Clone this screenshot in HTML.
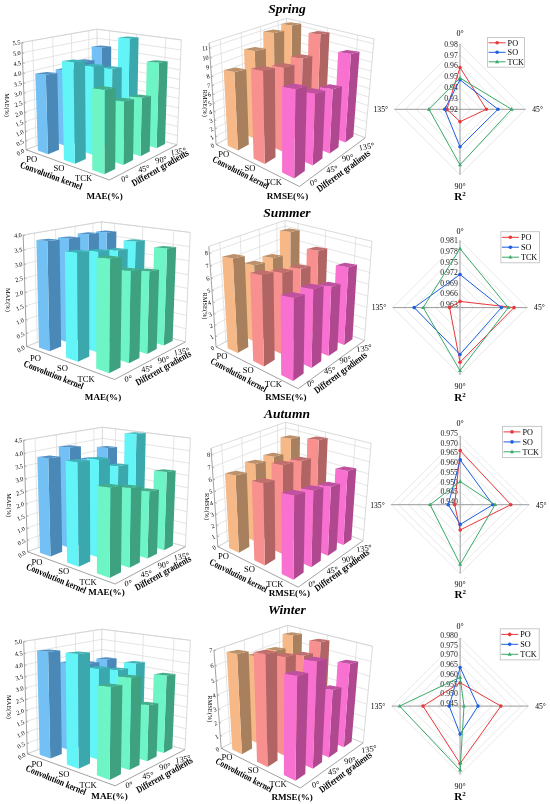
<!DOCTYPE html>
<html><head><meta charset="utf-8"><style>
html,body{margin:0;padding:0;background:#fff;}
svg{display:block;}
text{font-family:"Liberation Serif", "Times New Roman", serif;}
</style></head><body>
<svg width="550" height="804" viewBox="0 0 550 804">
<rect width="550" height="804" fill="#fff"/>
<line x1="26.1" y1="149.7" x2="97.2" y2="122.6" stroke="#dadada" stroke-width="0.7"/>
<line x1="97.2" y1="122.6" x2="177.1" y2="144.8" stroke="#dadada" stroke-width="0.7"/>
<line x1="25.7" y1="140.5" x2="97.2" y2="114.5" stroke="#dadada" stroke-width="0.7"/>
<line x1="97.2" y1="114.5" x2="177.5" y2="135.7" stroke="#dadada" stroke-width="0.7"/>
<line x1="25.4" y1="131.1" x2="97.1" y2="106.3" stroke="#dadada" stroke-width="0.7"/>
<line x1="97.1" y1="106.3" x2="177.8" y2="126.6" stroke="#dadada" stroke-width="0.7"/>
<line x1="25.0" y1="121.7" x2="97.1" y2="98.0" stroke="#dadada" stroke-width="0.7"/>
<line x1="97.1" y1="98.0" x2="178.2" y2="117.3" stroke="#dadada" stroke-width="0.7"/>
<line x1="24.6" y1="112.1" x2="97.1" y2="89.7" stroke="#dadada" stroke-width="0.7"/>
<line x1="97.1" y1="89.7" x2="178.6" y2="108.0" stroke="#dadada" stroke-width="0.7"/>
<line x1="24.2" y1="102.5" x2="97.1" y2="81.3" stroke="#dadada" stroke-width="0.7"/>
<line x1="97.1" y1="81.3" x2="179.0" y2="98.5" stroke="#dadada" stroke-width="0.7"/>
<line x1="23.8" y1="92.7" x2="97.1" y2="72.8" stroke="#dadada" stroke-width="0.7"/>
<line x1="97.1" y1="72.8" x2="179.3" y2="89.0" stroke="#dadada" stroke-width="0.7"/>
<line x1="23.4" y1="82.9" x2="97.0" y2="64.2" stroke="#dadada" stroke-width="0.7"/>
<line x1="97.0" y1="64.2" x2="179.7" y2="79.4" stroke="#dadada" stroke-width="0.7"/>
<line x1="23.0" y1="73.0" x2="97.0" y2="55.6" stroke="#dadada" stroke-width="0.7"/>
<line x1="97.0" y1="55.6" x2="180.1" y2="69.7" stroke="#dadada" stroke-width="0.7"/>
<line x1="22.6" y1="62.9" x2="97.0" y2="46.8" stroke="#dadada" stroke-width="0.7"/>
<line x1="97.0" y1="46.8" x2="180.5" y2="59.8" stroke="#dadada" stroke-width="0.7"/>
<line x1="22.2" y1="52.8" x2="97.0" y2="38.0" stroke="#dadada" stroke-width="0.7"/>
<line x1="97.0" y1="38.0" x2="180.9" y2="49.9" stroke="#dadada" stroke-width="0.7"/>
<line x1="21.8" y1="42.5" x2="97.0" y2="29.2" stroke="#dadada" stroke-width="0.7"/>
<line x1="97.0" y1="29.2" x2="181.3" y2="39.9" stroke="#dadada" stroke-width="0.7"/>
<line x1="36.2" y1="145.9" x2="32.5" y2="40.6" stroke="#dadada" stroke-width="0.7"/>
<line x1="55.2" y1="138.6" x2="52.7" y2="37.0" stroke="#dadada" stroke-width="0.7"/>
<line x1="72.9" y1="131.9" x2="71.4" y2="33.7" stroke="#dadada" stroke-width="0.7"/>
<line x1="89.4" y1="125.6" x2="88.7" y2="30.6" stroke="#dadada" stroke-width="0.7"/>
<line x1="109.2" y1="126.0" x2="109.6" y2="30.8" stroke="#dadada" stroke-width="0.7"/>
<line x1="134.7" y1="133.0" x2="136.5" y2="34.2" stroke="#dadada" stroke-width="0.7"/>
<line x1="162.4" y1="140.7" x2="165.7" y2="37.9" stroke="#dadada" stroke-width="0.7"/>
<line x1="21.8" y1="42.5" x2="97.0" y2="29.2" stroke="#d0d0d0" stroke-width="0.8"/>
<line x1="97.0" y1="29.2" x2="181.3" y2="39.9" stroke="#d0d0d0" stroke-width="0.8"/>
<line x1="177.1" y1="144.8" x2="181.3" y2="39.9" stroke="#d0d0d0" stroke-width="0.8"/>
<line x1="97.2" y1="122.6" x2="97.0" y2="29.2" stroke="#d0d0d0" stroke-width="0.8"/>
<line x1="26.1" y1="149.7" x2="97.2" y2="122.6" stroke="#d0d0d0" stroke-width="0.8"/>
<line x1="97.2" y1="122.6" x2="177.1" y2="144.8" stroke="#d0d0d0" stroke-width="0.8"/>
<line x1="26.1" y1="149.7" x2="21.8" y2="42.5" stroke="#8a8a8a" stroke-width="0.8"/>
<line x1="26.1" y1="149.7" x2="109.5" y2="180.0" stroke="#8a8a8a" stroke-width="0.8"/>
<line x1="109.5" y1="180.0" x2="177.1" y2="144.8" stroke="#8a8a8a" stroke-width="0.8"/>
<polygon points="102.0,132.3 110.8,128.7 111.2,46.4 102.0,47.5" fill="#4a88b8"/>
<polygon points="92.1,129.4 102.0,132.3 102.0,47.5 91.7,46.6" fill="#72c0f4"/>
<polygon points="91.7,46.6 102.0,47.5 111.2,46.4 100.9,45.5" fill="#5090c4"/>
<polygon points="85.3,139.1 94.8,135.2 94.5,60.2 84.6,61.5" fill="#4a88b8"/>
<polygon points="75.3,136.0 85.3,139.1 84.6,61.5 74.3,60.5" fill="#72c0f4"/>
<polygon points="74.3,60.5 84.6,61.5 94.5,60.2 84.2,59.2" fill="#5090c4"/>
<polygon points="67.4,146.4 77.6,142.2 76.6,68.9 66.0,70.4" fill="#4a88b8"/>
<polygon points="57.3,143.0 67.4,146.4 66.0,70.4 55.6,69.2" fill="#72c0f4"/>
<polygon points="55.6,69.2 66.0,70.4 76.6,68.9 66.3,67.8" fill="#5090c4"/>
<polygon points="48.0,154.2 59.0,149.8 57.3,73.1 45.8,74.7" fill="#4a88b8"/>
<polygon points="37.9,150.6 48.0,154.2 45.8,74.7 35.3,73.4" fill="#72c0f4"/>
<polygon points="35.3,73.4 45.8,74.7 57.3,73.1 46.9,71.9" fill="#5090c4"/>
<polygon points="128.1,139.9 136.8,136.0 138.6,37.3 129.5,38.4" fill="#3aa8ac"/>
<polygon points="117.4,136.8 128.1,139.9 129.5,38.4 118.2,37.5" fill="#62f4f6"/>
<polygon points="118.2,37.5 129.5,38.4 138.6,37.3 127.4,36.5" fill="#3eb4b8"/>
<polygon points="111.7,147.3 121.1,143.1 121.8,67.3 112.2,68.8" fill="#3aa8ac"/>
<polygon points="100.9,143.9 111.7,147.3 112.2,68.8 100.9,67.6" fill="#62f4f6"/>
<polygon points="100.9,67.6 112.2,68.8 121.8,67.3 110.6,66.2" fill="#3eb4b8"/>
<polygon points="94.1,155.2 104.1,150.7 104.2,64.9 93.7,66.4" fill="#3aa8ac"/>
<polygon points="83.1,151.6 94.1,155.2 93.7,66.4 82.3,65.2" fill="#62f4f6"/>
<polygon points="82.3,65.2 93.7,66.4 104.2,64.9 92.9,63.7" fill="#3eb4b8"/>
<polygon points="74.9,163.8 85.8,158.9 85.0,60.8 73.5,62.3" fill="#3aa8ac"/>
<polygon points="63.9,159.9 74.9,163.8 73.5,62.3 61.9,61.1" fill="#62f4f6"/>
<polygon points="61.9,61.1 73.5,62.3 85.0,60.8 73.4,59.6" fill="#3eb4b8"/>
<polygon points="156.6,148.2 165.0,143.9 167.7,61.3 159.0,62.7" fill="#3ea280"/>
<polygon points="144.9,144.8 156.6,148.2 159.0,62.7 146.8,61.6" fill="#6ef5c6"/>
<polygon points="146.8,61.6 159.0,62.7 167.7,61.3 155.6,60.2" fill="#44ae8c"/>
<polygon points="140.6,156.2 149.7,151.6 151.1,95.9 141.7,97.8" fill="#3ea280"/>
<polygon points="128.7,152.5 140.6,156.2 141.7,97.8 129.5,96.3" fill="#6ef5c6"/>
<polygon points="129.5,96.3 141.7,97.8 151.1,95.9 139.0,94.5" fill="#44ae8c"/>
<polygon points="123.3,164.9 133.1,159.9 134.1,99.3 124.0,101.4" fill="#3ea280"/>
<polygon points="111.3,160.9 123.3,164.9 124.0,101.4 111.6,99.8" fill="#6ef5c6"/>
<polygon points="111.6,99.8 124.0,101.4 134.1,99.3 121.8,97.8" fill="#44ae8c"/>
<polygon points="104.4,174.3 115.2,169.0 115.8,87.7 104.6,89.7" fill="#3ea280"/>
<polygon points="92.3,170.0 104.4,174.3 104.6,89.7 91.9,88.1" fill="#6ef5c6"/>
<polygon points="91.9,88.1 104.6,89.7 115.8,87.7 103.2,86.2" fill="#44ae8c"/>
<line x1="26.1" y1="149.7" x2="28.1" y2="150.3" stroke="#8a8a8a" stroke-width="0.6"/>
<text x="24.9" y="151.8" font-size="6.3" text-anchor="end" transform="rotate(-32.0 24.9 151.8)" fill="#000">0.0</text>
<line x1="25.7" y1="140.5" x2="27.7" y2="141.1" stroke="#8a8a8a" stroke-width="0.6"/>
<text x="24.5" y="142.6" font-size="6.3" text-anchor="end" transform="rotate(-29.5 24.5 142.6)" fill="#000">0.5</text>
<line x1="25.4" y1="131.1" x2="27.4" y2="131.7" stroke="#8a8a8a" stroke-width="0.6"/>
<text x="24.2" y="133.2" font-size="6.3" text-anchor="end" transform="rotate(-27.1 24.2 133.2)" fill="#000">1.0</text>
<line x1="25.0" y1="121.7" x2="27.0" y2="122.3" stroke="#8a8a8a" stroke-width="0.6"/>
<text x="23.8" y="123.8" font-size="6.3" text-anchor="end" transform="rotate(-24.6 23.8 123.8)" fill="#000">1.5</text>
<line x1="24.6" y1="112.1" x2="26.6" y2="112.7" stroke="#8a8a8a" stroke-width="0.6"/>
<text x="23.4" y="114.2" font-size="6.3" text-anchor="end" transform="rotate(-22.2 23.4 114.2)" fill="#000">2.0</text>
<line x1="24.2" y1="102.5" x2="26.2" y2="103.1" stroke="#8a8a8a" stroke-width="0.6"/>
<text x="23.0" y="104.6" font-size="6.3" text-anchor="end" transform="rotate(-19.7 23.0 104.6)" fill="#000">2.5</text>
<line x1="23.8" y1="92.7" x2="25.8" y2="93.3" stroke="#8a8a8a" stroke-width="0.6"/>
<text x="22.6" y="94.8" font-size="6.3" text-anchor="end" transform="rotate(-17.3 22.6 94.8)" fill="#000">3.0</text>
<line x1="23.4" y1="82.9" x2="25.4" y2="83.5" stroke="#8a8a8a" stroke-width="0.6"/>
<text x="22.2" y="85.0" font-size="6.3" text-anchor="end" transform="rotate(-14.8 22.2 85.0)" fill="#000">3.5</text>
<line x1="23.0" y1="73.0" x2="25.0" y2="73.6" stroke="#8a8a8a" stroke-width="0.6"/>
<text x="21.8" y="75.1" font-size="6.3" text-anchor="end" transform="rotate(-12.4 21.8 75.1)" fill="#000">4.0</text>
<line x1="22.6" y1="62.9" x2="24.6" y2="63.5" stroke="#8a8a8a" stroke-width="0.6"/>
<text x="21.4" y="65.0" font-size="6.3" text-anchor="end" transform="rotate(-9.9 21.4 65.0)" fill="#000">4.5</text>
<line x1="22.2" y1="52.8" x2="24.2" y2="53.4" stroke="#8a8a8a" stroke-width="0.6"/>
<text x="21.0" y="54.9" font-size="6.3" text-anchor="end" transform="rotate(-7.5 21.0 54.9)" fill="#000">5.0</text>
<line x1="21.8" y1="42.5" x2="23.8" y2="43.1" stroke="#8a8a8a" stroke-width="0.6"/>
<text x="20.6" y="44.6" font-size="6.3" text-anchor="end" transform="rotate(-5.0 20.6 44.6)" fill="#000">5.5</text>
<text x="6.7" y="105.1" font-size="6.4" text-anchor="middle" transform="rotate(90.0 6.7 105.1)" fill="#000" dominant-baseline="middle">MAE(%)</text>
<text x="31.8" y="161.8" font-size="8.6" text-anchor="middle" fill="#000">PO</text>
<text x="58.9" y="170.5" font-size="8.6" text-anchor="middle" fill="#000">SO</text>
<text x="83.6" y="181.3" font-size="8.6" text-anchor="middle" fill="#000">TCK</text>
<text x="125.5" y="181.4" font-size="8.3" text-anchor="middle" transform="rotate(-10.0 125.5 181.4)" fill="#000">0°</text>
<text x="144.4" y="171.5" font-size="8.3" text-anchor="middle" transform="rotate(-10.0 144.4 171.5)" fill="#000">45°</text>
<text x="161.6" y="162.5" font-size="8.3" text-anchor="middle" transform="rotate(-10.0 161.6 162.5)" fill="#000">90°</text>
<text x="178.7" y="154.4" font-size="8.3" text-anchor="middle" transform="rotate(-10.0 178.7 154.4)" fill="#000">135°</text>
<text transform="translate(19.5 167.3) rotate(20.10)" x="0" y="0" font-size="9.5" font-weight="bold" textLength="65.2" lengthAdjust="spacingAndGlyphs">Convolution kernel</text>
<text transform="translate(133.7 186.5) rotate(-29.80)" x="0" y="0" font-size="9.5" font-weight="bold" textLength="64.2" lengthAdjust="spacingAndGlyphs">Different gradients</text>
<line x1="216.1" y1="144.4" x2="286.1" y2="107.4" stroke="#dadada" stroke-width="0.7"/>
<line x1="286.1" y1="107.4" x2="365.3" y2="137.8" stroke="#dadada" stroke-width="0.7"/>
<line x1="215.5" y1="136.3" x2="286.1" y2="100.2" stroke="#dadada" stroke-width="0.7"/>
<line x1="286.1" y1="100.2" x2="366.0" y2="130.0" stroke="#dadada" stroke-width="0.7"/>
<line x1="215.0" y1="128.2" x2="286.2" y2="93.0" stroke="#dadada" stroke-width="0.7"/>
<line x1="286.2" y1="93.0" x2="366.7" y2="122.0" stroke="#dadada" stroke-width="0.7"/>
<line x1="214.4" y1="119.9" x2="286.2" y2="85.6" stroke="#dadada" stroke-width="0.7"/>
<line x1="286.2" y1="85.6" x2="367.4" y2="113.8" stroke="#dadada" stroke-width="0.7"/>
<line x1="213.8" y1="111.4" x2="286.2" y2="78.1" stroke="#dadada" stroke-width="0.7"/>
<line x1="286.2" y1="78.1" x2="368.1" y2="105.6" stroke="#dadada" stroke-width="0.7"/>
<line x1="213.2" y1="102.8" x2="286.3" y2="70.5" stroke="#dadada" stroke-width="0.7"/>
<line x1="286.3" y1="70.5" x2="368.9" y2="97.2" stroke="#dadada" stroke-width="0.7"/>
<line x1="212.6" y1="94.0" x2="286.3" y2="62.8" stroke="#dadada" stroke-width="0.7"/>
<line x1="286.3" y1="62.8" x2="369.6" y2="88.6" stroke="#dadada" stroke-width="0.7"/>
<line x1="212.0" y1="85.1" x2="286.3" y2="55.0" stroke="#dadada" stroke-width="0.7"/>
<line x1="286.3" y1="55.0" x2="370.4" y2="79.9" stroke="#dadada" stroke-width="0.7"/>
<line x1="211.4" y1="76.0" x2="286.4" y2="47.1" stroke="#dadada" stroke-width="0.7"/>
<line x1="286.4" y1="47.1" x2="371.2" y2="71.1" stroke="#dadada" stroke-width="0.7"/>
<line x1="210.7" y1="66.8" x2="286.4" y2="39.0" stroke="#dadada" stroke-width="0.7"/>
<line x1="286.4" y1="39.0" x2="371.9" y2="62.1" stroke="#dadada" stroke-width="0.7"/>
<line x1="210.1" y1="57.4" x2="286.5" y2="30.8" stroke="#dadada" stroke-width="0.7"/>
<line x1="286.5" y1="30.8" x2="372.8" y2="52.9" stroke="#dadada" stroke-width="0.7"/>
<line x1="209.4" y1="47.8" x2="286.5" y2="22.5" stroke="#dadada" stroke-width="0.7"/>
<line x1="286.5" y1="22.5" x2="373.6" y2="43.6" stroke="#dadada" stroke-width="0.7"/>
<line x1="226.1" y1="139.1" x2="220.3" y2="39.4" stroke="#dadada" stroke-width="0.7"/>
<line x1="244.9" y1="129.2" x2="241.2" y2="32.7" stroke="#dadada" stroke-width="0.7"/>
<line x1="262.3" y1="120.0" x2="260.5" y2="26.6" stroke="#dadada" stroke-width="0.7"/>
<line x1="278.5" y1="111.4" x2="278.2" y2="21.0" stroke="#dadada" stroke-width="0.7"/>
<line x1="298.0" y1="111.9" x2="299.5" y2="21.4" stroke="#dadada" stroke-width="0.7"/>
<line x1="323.2" y1="121.7" x2="327.3" y2="27.9" stroke="#dadada" stroke-width="0.7"/>
<line x1="350.7" y1="132.2" x2="357.7" y2="35.0" stroke="#dadada" stroke-width="0.7"/>
<line x1="209.1" y1="42.9" x2="286.5" y2="18.3" stroke="#d0d0d0" stroke-width="0.8"/>
<line x1="286.5" y1="18.3" x2="374.0" y2="38.9" stroke="#d0d0d0" stroke-width="0.8"/>
<line x1="365.3" y1="137.8" x2="374.0" y2="38.9" stroke="#d0d0d0" stroke-width="0.8"/>
<line x1="286.1" y1="107.4" x2="286.5" y2="18.3" stroke="#d0d0d0" stroke-width="0.8"/>
<line x1="216.1" y1="144.4" x2="286.1" y2="107.4" stroke="#d0d0d0" stroke-width="0.8"/>
<line x1="286.1" y1="107.4" x2="365.3" y2="137.8" stroke="#d0d0d0" stroke-width="0.8"/>
<line x1="216.1" y1="144.4" x2="209.1" y2="42.9" stroke="#8a8a8a" stroke-width="0.8"/>
<line x1="216.1" y1="144.4" x2="299.4" y2="186.5" stroke="#8a8a8a" stroke-width="0.8"/>
<line x1="299.4" y1="186.5" x2="365.3" y2="137.8" stroke="#8a8a8a" stroke-width="0.8"/>
<polygon points="291.0,120.6 299.6,115.7 301.3,23.7 291.9,25.5" fill="#a8805e"/>
<polygon points="281.2,116.6 291.0,120.6 291.9,25.5 281.2,24.0" fill="#f6b886"/>
<polygon points="281.2,24.0 291.9,25.5 301.3,23.7 290.6,22.3" fill="#bc9068"/>
<polygon points="274.7,129.8 283.9,124.5 284.2,31.1 274.0,33.1" fill="#a8805e"/>
<polygon points="264.8,125.6 274.7,129.8 274.0,33.1 263.2,31.5" fill="#f6b886"/>
<polygon points="263.2,31.5 274.0,33.1 284.2,31.1 273.4,29.6" fill="#bc9068"/>
<polygon points="257.0,139.8 267.1,134.1 265.8,48.8 254.8,51.0" fill="#a8805e"/>
<polygon points="247.0,135.2 257.0,139.8 254.8,51.0 244.0,49.2" fill="#f6b886"/>
<polygon points="244.0,49.2 254.8,51.0 265.8,48.8 255.0,47.0" fill="#bc9068"/>
<polygon points="237.9,150.6 248.8,144.5 246.3,69.4 234.4,72.1" fill="#a8805e"/>
<polygon points="227.8,145.7 237.9,150.6 234.4,72.1 223.7,69.9" fill="#f6b886"/>
<polygon points="223.7,69.9 234.4,72.1 246.3,69.4 235.5,67.4" fill="#bc9068"/>
<polygon points="316.9,131.0 325.3,125.7 329.5,32.6 320.4,34.5" fill="#b06464"/>
<polygon points="306.3,126.7 316.9,131.0 320.4,34.5 308.6,32.9" fill="#f89090"/>
<polygon points="308.6,32.9 320.4,34.5 329.5,32.6 317.9,31.0" fill="#c06e6e"/>
<polygon points="300.9,141.1 310.0,135.4 312.4,56.1 302.5,58.5" fill="#b06464"/>
<polygon points="290.1,136.5 300.9,141.1 302.5,58.5 290.8,56.6" fill="#f89090"/>
<polygon points="290.8,56.6 302.5,58.5 312.4,56.1 300.8,54.3" fill="#c06e6e"/>
<polygon points="283.6,152.0 293.5,145.8 294.5,65.0 283.8,67.6" fill="#b06464"/>
<polygon points="272.7,147.0 283.6,152.0 283.8,67.6 271.9,65.5" fill="#f89090"/>
<polygon points="271.9,65.5 283.8,67.6 294.5,65.0 282.7,63.0" fill="#c06e6e"/>
<polygon points="264.7,164.0 275.5,157.2 274.9,68.1 263.1,70.8" fill="#b06464"/>
<polygon points="253.6,158.5 264.7,164.0 263.1,70.8 251.0,68.6" fill="#f89090"/>
<polygon points="251.0,68.6 263.1,70.8 274.9,68.1 262.9,65.9" fill="#c06e6e"/>
<polygon points="345.2,142.4 353.3,136.6 359.6,51.7 350.9,54.0" fill="#b04890"/>
<polygon points="333.6,137.7 345.2,142.4 350.9,54.0 338.2,52.1" fill="#f870d0"/>
<polygon points="338.2,52.1 350.9,54.0 359.6,51.7 347.0,49.9" fill="#c050a0"/>
<polygon points="329.6,153.5 338.5,147.2 342.1,86.4 332.7,89.3" fill="#b04890"/>
<polygon points="317.8,148.4 329.6,153.5 332.7,89.3 320.1,86.9" fill="#f870d0"/>
<polygon points="320.1,86.9 332.7,89.3 342.1,86.4 329.6,84.2" fill="#c050a0"/>
<polygon points="312.7,165.5 322.4,158.6 325.3,90.7 315.0,93.7" fill="#b04890"/>
<polygon points="300.7,160.0 312.7,165.5 315.0,93.7 302.1,91.3" fill="#f870d0"/>
<polygon points="302.1,91.3 315.0,93.7 325.3,90.7 312.5,88.3" fill="#c050a0"/>
<polygon points="294.2,178.6 304.8,171.1 306.9,85.9 295.4,89.1" fill="#b04890"/>
<polygon points="282.1,172.6 294.2,178.6 295.4,89.1 282.1,86.5" fill="#f870d0"/>
<polygon points="282.1,86.5 295.4,89.1 306.9,85.9 293.7,83.4" fill="#c050a0"/>
<line x1="216.1" y1="144.4" x2="218.1" y2="145.0" stroke="#8a8a8a" stroke-width="0.6"/>
<text x="214.9" y="146.5" font-size="6.3" text-anchor="end" transform="rotate(-32.0 214.9 146.5)" fill="#000">0</text>
<line x1="215.5" y1="136.3" x2="217.5" y2="136.9" stroke="#8a8a8a" stroke-width="0.6"/>
<text x="214.3" y="138.4" font-size="6.3" text-anchor="end" transform="rotate(-29.7 214.3 138.4)" fill="#000">1</text>
<line x1="215.0" y1="128.2" x2="217.0" y2="128.8" stroke="#8a8a8a" stroke-width="0.6"/>
<text x="213.8" y="130.3" font-size="6.3" text-anchor="end" transform="rotate(-27.3 213.8 130.3)" fill="#000">2</text>
<line x1="214.4" y1="119.9" x2="216.4" y2="120.5" stroke="#8a8a8a" stroke-width="0.6"/>
<text x="213.2" y="122.0" font-size="6.3" text-anchor="end" transform="rotate(-25.0 213.2 122.0)" fill="#000">3</text>
<line x1="213.8" y1="111.4" x2="215.8" y2="112.0" stroke="#8a8a8a" stroke-width="0.6"/>
<text x="212.6" y="113.5" font-size="6.3" text-anchor="end" transform="rotate(-22.6 212.6 113.5)" fill="#000">4</text>
<line x1="213.2" y1="102.8" x2="215.2" y2="103.4" stroke="#8a8a8a" stroke-width="0.6"/>
<text x="212.0" y="104.9" font-size="6.3" text-anchor="end" transform="rotate(-20.3 212.0 104.9)" fill="#000">5</text>
<line x1="212.6" y1="94.0" x2="214.6" y2="94.6" stroke="#8a8a8a" stroke-width="0.6"/>
<text x="211.4" y="96.1" font-size="6.3" text-anchor="end" transform="rotate(-17.9 211.4 96.1)" fill="#000">6</text>
<line x1="212.0" y1="85.1" x2="214.0" y2="85.7" stroke="#8a8a8a" stroke-width="0.6"/>
<text x="210.8" y="87.2" font-size="6.3" text-anchor="end" transform="rotate(-15.6 210.8 87.2)" fill="#000">7</text>
<line x1="211.4" y1="76.0" x2="213.4" y2="76.6" stroke="#8a8a8a" stroke-width="0.6"/>
<text x="210.2" y="78.1" font-size="6.3" text-anchor="end" transform="rotate(-13.2 210.2 78.1)" fill="#000">8</text>
<line x1="210.7" y1="66.8" x2="212.7" y2="67.4" stroke="#8a8a8a" stroke-width="0.6"/>
<text x="209.5" y="68.9" font-size="6.3" text-anchor="end" transform="rotate(-10.9 209.5 68.9)" fill="#000">9</text>
<line x1="210.1" y1="57.4" x2="212.1" y2="58.0" stroke="#8a8a8a" stroke-width="0.6"/>
<text x="208.9" y="59.5" font-size="6.3" text-anchor="end" transform="rotate(-8.5 208.9 59.5)" fill="#000">10</text>
<line x1="209.4" y1="47.8" x2="211.4" y2="48.4" stroke="#8a8a8a" stroke-width="0.6"/>
<text x="208.2" y="49.9" font-size="6.3" text-anchor="end" transform="rotate(-6.2 208.2 49.9)" fill="#000">11</text>
<text x="204.8" y="103.3" font-size="6.4" text-anchor="middle" transform="rotate(90.0 204.8 103.3)" fill="#000" dominant-baseline="middle">RMSE(%)</text>
<text x="223.7" y="156.9" font-size="8.6" text-anchor="middle" fill="#000">PO</text>
<text x="249.9" y="170.8" font-size="8.6" text-anchor="middle" fill="#000">SO</text>
<text x="273.3" y="184.7" font-size="8.6" text-anchor="middle" fill="#000">TCK</text>
<text x="314.3" y="185.0" font-size="8.3" text-anchor="middle" transform="rotate(-10.0 314.3 185.0)" fill="#000">0°</text>
<text x="332.6" y="172.0" font-size="8.3" text-anchor="middle" transform="rotate(-10.0 332.6 172.0)" fill="#000">45°</text>
<text x="348.2" y="160.5" font-size="8.3" text-anchor="middle" transform="rotate(-10.0 348.2 160.5)" fill="#000">90°</text>
<text x="367.0" y="149.4" font-size="8.3" text-anchor="middle" transform="rotate(-10.0 367.0 149.4)" fill="#000">135°</text>
<text transform="translate(211.8 161.3) rotate(26.69)" x="0" y="0" font-size="9.5" font-weight="bold" textLength="61.9" lengthAdjust="spacingAndGlyphs">Convolution kernel</text>
<text transform="translate(319.5 192.2) rotate(-36.15)" x="0" y="0" font-size="9.5" font-weight="bold" textLength="63.9" lengthAdjust="spacingAndGlyphs">Different gradients</text>
<line x1="26.6" y1="346.4" x2="101.0" y2="318.1" stroke="#dadada" stroke-width="0.7"/>
<line x1="101.0" y1="318.1" x2="185.4" y2="341.9" stroke="#dadada" stroke-width="0.7"/>
<line x1="26.2" y1="333.1" x2="101.1" y2="306.5" stroke="#dadada" stroke-width="0.7"/>
<line x1="101.1" y1="306.5" x2="186.0" y2="328.8" stroke="#dadada" stroke-width="0.7"/>
<line x1="25.8" y1="319.6" x2="101.2" y2="294.8" stroke="#dadada" stroke-width="0.7"/>
<line x1="101.2" y1="294.8" x2="186.6" y2="315.5" stroke="#dadada" stroke-width="0.7"/>
<line x1="25.4" y1="306.0" x2="101.2" y2="283.0" stroke="#dadada" stroke-width="0.7"/>
<line x1="101.2" y1="283.0" x2="187.2" y2="302.1" stroke="#dadada" stroke-width="0.7"/>
<line x1="25.0" y1="292.1" x2="101.3" y2="271.0" stroke="#dadada" stroke-width="0.7"/>
<line x1="101.3" y1="271.0" x2="187.8" y2="288.5" stroke="#dadada" stroke-width="0.7"/>
<line x1="24.6" y1="278.1" x2="101.3" y2="258.9" stroke="#dadada" stroke-width="0.7"/>
<line x1="101.3" y1="258.9" x2="188.4" y2="274.8" stroke="#dadada" stroke-width="0.7"/>
<line x1="24.1" y1="263.9" x2="101.4" y2="246.7" stroke="#dadada" stroke-width="0.7"/>
<line x1="101.4" y1="246.7" x2="189.1" y2="260.8" stroke="#dadada" stroke-width="0.7"/>
<line x1="23.7" y1="249.6" x2="101.4" y2="234.3" stroke="#dadada" stroke-width="0.7"/>
<line x1="101.4" y1="234.3" x2="189.7" y2="246.7" stroke="#dadada" stroke-width="0.7"/>
<line x1="23.2" y1="235.0" x2="101.5" y2="221.8" stroke="#dadada" stroke-width="0.7"/>
<line x1="101.5" y1="221.8" x2="190.3" y2="232.4" stroke="#dadada" stroke-width="0.7"/>
<line x1="37.3" y1="342.4" x2="34.5" y2="233.1" stroke="#dadada" stroke-width="0.7"/>
<line x1="57.2" y1="334.8" x2="55.6" y2="229.5" stroke="#dadada" stroke-width="0.7"/>
<line x1="75.7" y1="327.8" x2="75.0" y2="226.3" stroke="#dadada" stroke-width="0.7"/>
<line x1="92.9" y1="321.2" x2="93.0" y2="223.2" stroke="#dadada" stroke-width="0.7"/>
<line x1="113.6" y1="321.7" x2="114.7" y2="223.4" stroke="#dadada" stroke-width="0.7"/>
<line x1="140.5" y1="329.2" x2="142.8" y2="226.7" stroke="#dadada" stroke-width="0.7"/>
<line x1="169.8" y1="337.5" x2="173.7" y2="230.4" stroke="#dadada" stroke-width="0.7"/>
<line x1="23.2" y1="235.0" x2="101.5" y2="221.8" stroke="#d0d0d0" stroke-width="0.8"/>
<line x1="101.5" y1="221.8" x2="190.3" y2="232.4" stroke="#d0d0d0" stroke-width="0.8"/>
<line x1="185.4" y1="341.9" x2="190.3" y2="232.4" stroke="#d0d0d0" stroke-width="0.8"/>
<line x1="101.0" y1="318.1" x2="101.5" y2="221.8" stroke="#d0d0d0" stroke-width="0.8"/>
<line x1="26.6" y1="346.4" x2="101.0" y2="318.1" stroke="#d0d0d0" stroke-width="0.8"/>
<line x1="101.0" y1="318.1" x2="185.4" y2="341.9" stroke="#d0d0d0" stroke-width="0.8"/>
<line x1="26.6" y1="346.4" x2="23.2" y2="235.0" stroke="#8a8a8a" stroke-width="0.8"/>
<line x1="26.6" y1="346.4" x2="114.6" y2="379.5" stroke="#8a8a8a" stroke-width="0.8"/>
<line x1="114.6" y1="379.5" x2="185.4" y2="341.9" stroke="#8a8a8a" stroke-width="0.8"/>
<polygon points="106.1,328.3 115.3,324.6 116.4,231.4 106.8,232.4" fill="#4a88b8"/>
<polygon points="95.8,325.2 106.1,328.3 106.8,232.4 96.0,231.6" fill="#72c0f4"/>
<polygon points="96.0,231.6 106.8,232.4 116.4,231.4 105.6,230.6" fill="#5090c4"/>
<polygon points="88.7,335.4 98.6,331.4 99.0,233.1 88.6,234.2" fill="#4a88b8"/>
<polygon points="78.3,332.1 88.7,335.4 88.6,234.2 77.7,233.4" fill="#72c0f4"/>
<polygon points="77.7,233.4 88.6,234.2 99.0,233.1 88.1,232.3" fill="#5090c4"/>
<polygon points="69.9,343.0 80.6,338.7 80.1,237.3 68.9,238.5" fill="#4a88b8"/>
<polygon points="59.4,339.5 69.9,343.0 68.9,238.5 57.9,237.6" fill="#72c0f4"/>
<polygon points="57.9,237.6 68.9,238.5 80.1,237.3 69.2,236.4" fill="#5090c4"/>
<polygon points="49.5,351.3 61.2,346.6 59.6,239.7 47.4,241.0" fill="#4a88b8"/>
<polygon points="39.0,347.4 49.5,351.3 47.4,241.0 36.4,239.9" fill="#72c0f4"/>
<polygon points="36.4,239.9 47.4,241.0 59.6,239.7 48.6,238.7" fill="#5090c4"/>
<polygon points="133.7,336.5 142.7,332.4 144.9,240.2 135.5,241.4" fill="#3aa8ac"/>
<polygon points="122.3,333.1 133.7,336.5 135.5,241.4 123.7,240.5" fill="#62f4f6"/>
<polygon points="123.7,240.5 135.5,241.4 144.9,240.2 133.1,239.3" fill="#3eb4b8"/>
<polygon points="116.5,344.2 126.3,339.8 127.8,249.1 117.7,250.5" fill="#3aa8ac"/>
<polygon points="105.1,340.6 116.5,344.2 117.7,250.5 105.7,249.4" fill="#62f4f6"/>
<polygon points="105.7,249.4 117.7,250.5 127.8,249.1 115.9,248.1" fill="#3eb4b8"/>
<polygon points="98.0,352.6 108.6,347.8 109.4,250.0 98.3,251.4" fill="#3aa8ac"/>
<polygon points="86.4,348.7 98.0,352.6 98.3,251.4 86.2,250.3" fill="#62f4f6"/>
<polygon points="86.2,250.3 98.3,251.4 109.4,250.0 97.3,248.9" fill="#3eb4b8"/>
<polygon points="77.8,361.8 89.3,356.5 89.2,251.0 77.1,252.5" fill="#3aa8ac"/>
<polygon points="66.1,357.5 77.8,361.8 77.1,252.5 64.9,251.3" fill="#62f4f6"/>
<polygon points="64.9,251.3 77.1,252.5 89.2,251.0 77.1,249.8" fill="#3eb4b8"/>
<polygon points="163.8,345.4 172.6,340.9 176.2,247.0 167.1,248.4" fill="#3ea280"/>
<polygon points="151.4,341.7 163.8,345.4 167.1,248.4 154.1,247.3" fill="#6ef5c6"/>
<polygon points="154.1,247.3 167.1,248.4 176.2,247.0 163.3,246.0" fill="#44ae8c"/>
<polygon points="147.2,353.9 156.7,349.1 159.1,269.7 149.3,271.4" fill="#3ea280"/>
<polygon points="134.6,349.9 147.2,353.9 149.3,271.4 136.2,270.0" fill="#6ef5c6"/>
<polygon points="136.2,270.0 149.3,271.4 159.1,269.7 146.1,268.4" fill="#44ae8c"/>
<polygon points="129.0,363.2 139.4,357.9 141.4,269.2 130.6,271.0" fill="#3ea280"/>
<polygon points="116.2,358.8 129.0,363.2 130.6,271.0 117.3,269.5" fill="#6ef5c6"/>
<polygon points="117.3,269.5 130.6,271.0 141.4,269.2 128.1,267.8" fill="#44ae8c"/>
<polygon points="109.1,373.3 120.5,367.5 122.0,256.9 110.1,258.6" fill="#3ea280"/>
<polygon points="96.2,368.6 109.1,373.3 110.1,258.6 96.5,257.2" fill="#6ef5c6"/>
<polygon points="96.5,257.2 110.1,258.6 122.0,256.9 108.5,255.6" fill="#44ae8c"/>
<line x1="26.6" y1="346.4" x2="28.6" y2="347.0" stroke="#8a8a8a" stroke-width="0.6"/>
<text x="25.4" y="348.5" font-size="6.3" text-anchor="end" transform="rotate(-32.0 25.4 348.5)" fill="#000">0.0</text>
<line x1="26.2" y1="333.1" x2="28.2" y2="333.7" stroke="#8a8a8a" stroke-width="0.6"/>
<text x="25.0" y="335.2" font-size="6.3" text-anchor="end" transform="rotate(-28.6 25.0 335.2)" fill="#000">0.5</text>
<line x1="25.8" y1="319.6" x2="27.8" y2="320.2" stroke="#8a8a8a" stroke-width="0.6"/>
<text x="24.6" y="321.7" font-size="6.3" text-anchor="end" transform="rotate(-25.2 24.6 321.7)" fill="#000">1.0</text>
<line x1="25.4" y1="306.0" x2="27.4" y2="306.6" stroke="#8a8a8a" stroke-width="0.6"/>
<text x="24.2" y="308.1" font-size="6.3" text-anchor="end" transform="rotate(-21.9 24.2 308.1)" fill="#000">1.5</text>
<line x1="25.0" y1="292.1" x2="27.0" y2="292.7" stroke="#8a8a8a" stroke-width="0.6"/>
<text x="23.8" y="294.2" font-size="6.3" text-anchor="end" transform="rotate(-18.5 23.8 294.2)" fill="#000">2.0</text>
<line x1="24.6" y1="278.1" x2="26.6" y2="278.7" stroke="#8a8a8a" stroke-width="0.6"/>
<text x="23.4" y="280.2" font-size="6.3" text-anchor="end" transform="rotate(-15.1 23.4 280.2)" fill="#000">2.5</text>
<line x1="24.1" y1="263.9" x2="26.1" y2="264.5" stroke="#8a8a8a" stroke-width="0.6"/>
<text x="22.9" y="266.0" font-size="6.3" text-anchor="end" transform="rotate(-11.8 22.9 266.0)" fill="#000">3.0</text>
<line x1="23.7" y1="249.6" x2="25.7" y2="250.2" stroke="#8a8a8a" stroke-width="0.6"/>
<text x="22.5" y="251.7" font-size="6.3" text-anchor="end" transform="rotate(-8.4 22.5 251.7)" fill="#000">3.5</text>
<line x1="23.2" y1="235.0" x2="25.2" y2="235.6" stroke="#8a8a8a" stroke-width="0.6"/>
<text x="22.0" y="237.1" font-size="6.3" text-anchor="end" transform="rotate(-5.0 22.0 237.1)" fill="#000">4.0</text>
<text x="7.6" y="299.9" font-size="6.4" text-anchor="middle" transform="rotate(90.0 7.6 299.9)" fill="#000" dominant-baseline="middle">MAE(%)</text>
<text x="35.4" y="361.2" font-size="8.6" text-anchor="middle" fill="#000">PO</text>
<text x="62.4" y="371.0" font-size="8.6" text-anchor="middle" fill="#000">SO</text>
<text x="86.1" y="381.6" font-size="8.6" text-anchor="middle" fill="#000">TCK</text>
<text x="128.8" y="381.4" font-size="8.3" text-anchor="middle" transform="rotate(-10.0 128.8 381.4)" fill="#000">0°</text>
<text x="147.6" y="371.6" font-size="8.3" text-anchor="middle" transform="rotate(-10.0 147.6 371.6)" fill="#000">45°</text>
<text x="164.0" y="362.5" font-size="8.3" text-anchor="middle" transform="rotate(-10.0 164.0 362.5)" fill="#000">90°</text>
<text x="182.0" y="354.4" font-size="8.3" text-anchor="middle" transform="rotate(-10.0 182.0 354.4)" fill="#000">135°</text>
<text transform="translate(23.1 366.0) rotate(21.58)" x="0" y="0" font-size="9.5" font-weight="bold" textLength="63.3" lengthAdjust="spacingAndGlyphs">Convolution kernel</text>
<text transform="translate(137.8 385.7) rotate(-29.22)" x="0" y="0" font-size="9.5" font-weight="bold" textLength="61.9" lengthAdjust="spacingAndGlyphs">Different gradients</text>
<line x1="216.1" y1="346.9" x2="285.3" y2="309.7" stroke="#dadada" stroke-width="0.7"/>
<line x1="285.3" y1="309.7" x2="364.4" y2="340.5" stroke="#dadada" stroke-width="0.7"/>
<line x1="215.3" y1="336.0" x2="285.3" y2="300.0" stroke="#dadada" stroke-width="0.7"/>
<line x1="285.3" y1="300.0" x2="365.2" y2="329.8" stroke="#dadada" stroke-width="0.7"/>
<line x1="214.5" y1="324.9" x2="285.3" y2="290.0" stroke="#dadada" stroke-width="0.7"/>
<line x1="285.3" y1="290.0" x2="366.1" y2="318.8" stroke="#dadada" stroke-width="0.7"/>
<line x1="213.7" y1="313.6" x2="285.3" y2="279.9" stroke="#dadada" stroke-width="0.7"/>
<line x1="285.3" y1="279.9" x2="366.9" y2="307.6" stroke="#dadada" stroke-width="0.7"/>
<line x1="212.8" y1="302.0" x2="285.2" y2="269.5" stroke="#dadada" stroke-width="0.7"/>
<line x1="285.2" y1="269.5" x2="367.8" y2="296.2" stroke="#dadada" stroke-width="0.7"/>
<line x1="212.0" y1="290.2" x2="285.2" y2="258.9" stroke="#dadada" stroke-width="0.7"/>
<line x1="285.2" y1="258.9" x2="368.7" y2="284.4" stroke="#dadada" stroke-width="0.7"/>
<line x1="211.1" y1="278.0" x2="285.2" y2="248.2" stroke="#dadada" stroke-width="0.7"/>
<line x1="285.2" y1="248.2" x2="369.6" y2="272.5" stroke="#dadada" stroke-width="0.7"/>
<line x1="210.2" y1="265.6" x2="285.2" y2="237.2" stroke="#dadada" stroke-width="0.7"/>
<line x1="285.2" y1="237.2" x2="370.5" y2="260.2" stroke="#dadada" stroke-width="0.7"/>
<line x1="209.3" y1="252.9" x2="285.1" y2="226.0" stroke="#dadada" stroke-width="0.7"/>
<line x1="285.1" y1="226.0" x2="371.5" y2="247.7" stroke="#dadada" stroke-width="0.7"/>
<line x1="225.9" y1="341.6" x2="219.7" y2="242.7" stroke="#dadada" stroke-width="0.7"/>
<line x1="244.4" y1="331.7" x2="240.2" y2="235.7" stroke="#dadada" stroke-width="0.7"/>
<line x1="261.6" y1="322.5" x2="259.2" y2="229.2" stroke="#dadada" stroke-width="0.7"/>
<line x1="277.7" y1="313.8" x2="276.8" y2="223.2" stroke="#dadada" stroke-width="0.7"/>
<line x1="297.2" y1="314.4" x2="298.0" y2="223.4" stroke="#dadada" stroke-width="0.7"/>
<line x1="322.4" y1="324.2" x2="325.6" y2="230.1" stroke="#dadada" stroke-width="0.7"/>
<line x1="349.8" y1="334.8" x2="355.8" y2="237.4" stroke="#dadada" stroke-width="0.7"/>
<line x1="208.8" y1="246.4" x2="285.1" y2="220.3" stroke="#d0d0d0" stroke-width="0.8"/>
<line x1="285.1" y1="220.3" x2="372.0" y2="241.3" stroke="#d0d0d0" stroke-width="0.8"/>
<line x1="364.4" y1="340.5" x2="372.0" y2="241.3" stroke="#d0d0d0" stroke-width="0.8"/>
<line x1="285.3" y1="309.7" x2="285.1" y2="220.3" stroke="#d0d0d0" stroke-width="0.8"/>
<line x1="216.1" y1="346.9" x2="285.3" y2="309.7" stroke="#d0d0d0" stroke-width="0.8"/>
<line x1="285.3" y1="309.7" x2="364.4" y2="340.5" stroke="#d0d0d0" stroke-width="0.8"/>
<line x1="216.1" y1="346.9" x2="208.8" y2="246.4" stroke="#8a8a8a" stroke-width="0.8"/>
<line x1="216.1" y1="346.9" x2="298.2" y2="388.7" stroke="#8a8a8a" stroke-width="0.8"/>
<line x1="298.2" y1="388.7" x2="364.4" y2="340.5" stroke="#8a8a8a" stroke-width="0.8"/>
<polygon points="290.2,323.1 298.8,318.2 299.7,230.0 290.4,231.9" fill="#a8805e"/>
<polygon points="280.4,319.1 290.2,323.1 290.4,231.9 279.8,230.4" fill="#f6b886"/>
<polygon points="279.8,230.4 290.4,231.9 299.7,230.0 289.2,228.5" fill="#bc9068"/>
<polygon points="273.9,332.4 283.2,327.1 282.8,255.8 272.9,258.1" fill="#a8805e"/>
<polygon points="264.1,328.1 273.9,332.4 272.9,258.1 262.4,256.3" fill="#f6b886"/>
<polygon points="262.4,256.3 272.9,258.1 282.8,255.8 272.4,254.1" fill="#bc9068"/>
<polygon points="256.4,342.4 266.4,336.7 264.8,262.7 254.1,265.2" fill="#a8805e"/>
<polygon points="246.5,337.8 256.4,342.4 254.1,265.2 243.5,263.2" fill="#f6b886"/>
<polygon points="243.5,263.2 254.1,265.2 264.8,262.7 254.3,260.8" fill="#bc9068"/>
<polygon points="237.6,353.1 248.3,347.0 244.7,256.0 232.9,258.5" fill="#a8805e"/>
<polygon points="227.7,348.2 237.6,353.1 232.9,258.5 222.2,256.5" fill="#f6b886"/>
<polygon points="222.2,256.5 232.9,258.5 244.7,256.0 234.0,254.1" fill="#bc9068"/>
<polygon points="316.0,333.6 324.5,328.3 327.3,248.5 318.2,250.7" fill="#b06464"/>
<polygon points="305.4,329.3 316.0,333.6 318.2,250.7 306.8,249.0" fill="#f89090"/>
<polygon points="306.8,249.0 318.2,250.7 327.3,248.5 315.9,246.8" fill="#c06e6e"/>
<polygon points="300.0,343.7 309.1,338.0 310.6,266.2 300.8,268.8" fill="#b06464"/>
<polygon points="289.3,339.1 300.0,343.7 300.8,268.8 289.4,266.7" fill="#f89090"/>
<polygon points="289.4,266.7 300.8,268.8 310.6,266.2 299.2,264.3" fill="#c06e6e"/>
<polygon points="282.7,354.6 292.5,348.4 292.9,270.2 282.3,272.8" fill="#b06464"/>
<polygon points="271.9,349.6 282.7,354.6 282.3,272.8 270.6,270.7" fill="#f89090"/>
<polygon points="270.6,270.7 282.3,272.8 292.9,270.2 281.3,268.1" fill="#c06e6e"/>
<polygon points="264.0,366.4 274.7,359.7 273.5,272.3 261.9,275.1" fill="#b06464"/>
<polygon points="253.2,360.9 264.0,366.4 261.9,275.1 250.1,272.8" fill="#f89090"/>
<polygon points="250.1,272.8 261.9,275.1 273.5,272.3 261.8,270.1" fill="#c06e6e"/>
<polygon points="344.1,345.1 352.4,339.3 357.1,264.7 348.3,267.3" fill="#b04890"/>
<polygon points="332.6,340.4 344.1,345.1 348.3,267.3 335.9,265.2" fill="#f870d0"/>
<polygon points="335.9,265.2 348.3,267.3 357.1,264.7 344.8,262.8" fill="#c050a0"/>
<polygon points="328.5,356.1 337.4,349.9 340.6,283.9 331.2,286.7" fill="#b04890"/>
<polygon points="316.8,351.0 328.5,356.1 331.2,286.7 318.6,284.5" fill="#f870d0"/>
<polygon points="318.6,284.5 331.2,286.7 340.6,283.9 328.2,281.7" fill="#c050a0"/>
<polygon points="311.5,368.0 321.2,361.3 323.7,286.1 313.3,289.2" fill="#b04890"/>
<polygon points="299.7,362.5 311.5,368.0 313.3,289.2 300.5,286.7" fill="#f870d0"/>
<polygon points="300.5,286.7 313.3,289.2 323.7,286.1 311.0,283.8" fill="#c050a0"/>
<polygon points="293.1,381.0 303.6,373.6 304.9,294.4 293.6,297.7" fill="#b04890"/>
<polygon points="281.2,375.0 293.1,381.0 293.6,297.7 280.6,295.1" fill="#f870d0"/>
<polygon points="280.6,295.1 293.6,297.7 304.9,294.4 292.0,291.9" fill="#c050a0"/>
<line x1="216.1" y1="346.9" x2="218.1" y2="347.5" stroke="#8a8a8a" stroke-width="0.6"/>
<text x="214.9" y="349.0" font-size="6.3" text-anchor="end" transform="rotate(-32.0 214.9 349.0)" fill="#000">0</text>
<line x1="215.3" y1="336.0" x2="217.3" y2="336.6" stroke="#8a8a8a" stroke-width="0.6"/>
<text x="214.1" y="338.1" font-size="6.3" text-anchor="end" transform="rotate(-28.8 214.1 338.1)" fill="#000">1</text>
<line x1="214.5" y1="324.9" x2="216.5" y2="325.5" stroke="#8a8a8a" stroke-width="0.6"/>
<text x="213.3" y="327.0" font-size="6.3" text-anchor="end" transform="rotate(-25.6 213.3 327.0)" fill="#000">2</text>
<line x1="213.7" y1="313.6" x2="215.7" y2="314.2" stroke="#8a8a8a" stroke-width="0.6"/>
<text x="212.5" y="315.7" font-size="6.3" text-anchor="end" transform="rotate(-22.5 212.5 315.7)" fill="#000">3</text>
<line x1="212.8" y1="302.0" x2="214.8" y2="302.6" stroke="#8a8a8a" stroke-width="0.6"/>
<text x="211.6" y="304.1" font-size="6.3" text-anchor="end" transform="rotate(-19.3 211.6 304.1)" fill="#000">4</text>
<line x1="212.0" y1="290.2" x2="214.0" y2="290.8" stroke="#8a8a8a" stroke-width="0.6"/>
<text x="210.8" y="292.3" font-size="6.3" text-anchor="end" transform="rotate(-16.1 210.8 292.3)" fill="#000">5</text>
<line x1="211.1" y1="278.0" x2="213.1" y2="278.6" stroke="#8a8a8a" stroke-width="0.6"/>
<text x="209.9" y="280.1" font-size="6.3" text-anchor="end" transform="rotate(-12.9 209.9 280.1)" fill="#000">6</text>
<line x1="210.2" y1="265.6" x2="212.2" y2="266.2" stroke="#8a8a8a" stroke-width="0.6"/>
<text x="209.0" y="267.7" font-size="6.3" text-anchor="end" transform="rotate(-9.8 209.0 267.7)" fill="#000">7</text>
<line x1="209.3" y1="252.9" x2="211.3" y2="253.5" stroke="#8a8a8a" stroke-width="0.6"/>
<text x="208.1" y="255.0" font-size="6.3" text-anchor="end" transform="rotate(-6.6 208.1 255.0)" fill="#000">8</text>
<text x="204.6" y="306.0" font-size="6.4" text-anchor="middle" transform="rotate(90.0 204.6 306.0)" fill="#000" dominant-baseline="middle">RMSE(%)</text>
<text x="222.1" y="359.4" font-size="8.6" text-anchor="middle" fill="#000">PO</text>
<text x="248.3" y="373.3" font-size="8.6" text-anchor="middle" fill="#000">SO</text>
<text x="273.3" y="387.2" font-size="8.6" text-anchor="middle" fill="#000">TCK</text>
<text x="311.4" y="386.2" font-size="8.3" text-anchor="middle" transform="rotate(-10.0 311.4 386.2)" fill="#000">0°</text>
<text x="330.2" y="373.1" font-size="8.3" text-anchor="middle" transform="rotate(-10.0 330.2 373.1)" fill="#000">45°</text>
<text x="345.7" y="362.5" font-size="8.3" text-anchor="middle" transform="rotate(-10.0 345.7 362.5)" fill="#000">90°</text>
<text x="364.6" y="351.0" font-size="8.3" text-anchor="middle" transform="rotate(-10.0 364.6 351.0)" fill="#000">135°</text>
<text transform="translate(209.8 362.9) rotate(28.29)" x="0" y="0" font-size="9.5" font-weight="bold" textLength="62.2" lengthAdjust="spacingAndGlyphs">Convolution kernel</text>
<text transform="translate(317.1 393.8) rotate(-36.56)" x="0" y="0" font-size="9.5" font-weight="bold" textLength="63.1" lengthAdjust="spacingAndGlyphs">Different gradients</text>
<line x1="27.6" y1="551.7" x2="102.1" y2="523.4" stroke="#dadada" stroke-width="0.7"/>
<line x1="102.1" y1="523.4" x2="185.4" y2="546.6" stroke="#dadada" stroke-width="0.7"/>
<line x1="27.2" y1="539.9" x2="102.2" y2="513.1" stroke="#dadada" stroke-width="0.7"/>
<line x1="102.2" y1="513.1" x2="185.9" y2="535.1" stroke="#dadada" stroke-width="0.7"/>
<line x1="26.8" y1="528.0" x2="102.2" y2="502.8" stroke="#dadada" stroke-width="0.7"/>
<line x1="102.2" y1="502.8" x2="186.5" y2="523.5" stroke="#dadada" stroke-width="0.7"/>
<line x1="26.4" y1="515.9" x2="102.2" y2="492.3" stroke="#dadada" stroke-width="0.7"/>
<line x1="102.2" y1="492.3" x2="187.0" y2="511.7" stroke="#dadada" stroke-width="0.7"/>
<line x1="25.9" y1="503.6" x2="102.3" y2="481.8" stroke="#dadada" stroke-width="0.7"/>
<line x1="102.3" y1="481.8" x2="187.6" y2="499.8" stroke="#dadada" stroke-width="0.7"/>
<line x1="25.5" y1="491.3" x2="102.3" y2="471.1" stroke="#dadada" stroke-width="0.7"/>
<line x1="102.3" y1="471.1" x2="188.1" y2="487.8" stroke="#dadada" stroke-width="0.7"/>
<line x1="25.1" y1="478.7" x2="102.3" y2="460.3" stroke="#dadada" stroke-width="0.7"/>
<line x1="102.3" y1="460.3" x2="188.7" y2="475.6" stroke="#dadada" stroke-width="0.7"/>
<line x1="24.6" y1="466.0" x2="102.4" y2="449.4" stroke="#dadada" stroke-width="0.7"/>
<line x1="102.4" y1="449.4" x2="189.3" y2="463.2" stroke="#dadada" stroke-width="0.7"/>
<line x1="24.2" y1="453.2" x2="102.4" y2="438.3" stroke="#dadada" stroke-width="0.7"/>
<line x1="102.4" y1="438.3" x2="189.8" y2="450.7" stroke="#dadada" stroke-width="0.7"/>
<line x1="23.7" y1="440.1" x2="102.4" y2="427.2" stroke="#dadada" stroke-width="0.7"/>
<line x1="102.4" y1="427.2" x2="190.4" y2="438.1" stroke="#dadada" stroke-width="0.7"/>
<line x1="38.3" y1="547.6" x2="35.0" y2="438.3" stroke="#dadada" stroke-width="0.7"/>
<line x1="58.3" y1="540.0" x2="56.3" y2="434.8" stroke="#dadada" stroke-width="0.7"/>
<line x1="76.8" y1="533.0" x2="75.9" y2="431.6" stroke="#dadada" stroke-width="0.7"/>
<line x1="94.0" y1="526.5" x2="93.9" y2="428.6" stroke="#dadada" stroke-width="0.7"/>
<line x1="114.6" y1="526.9" x2="115.6" y2="428.8" stroke="#dadada" stroke-width="0.7"/>
<line x1="141.2" y1="534.3" x2="143.5" y2="432.3" stroke="#dadada" stroke-width="0.7"/>
<line x1="170.0" y1="542.3" x2="174.1" y2="436.1" stroke="#dadada" stroke-width="0.7"/>
<line x1="23.7" y1="440.1" x2="102.4" y2="427.2" stroke="#d0d0d0" stroke-width="0.8"/>
<line x1="102.4" y1="427.2" x2="190.4" y2="438.1" stroke="#d0d0d0" stroke-width="0.8"/>
<line x1="185.4" y1="546.6" x2="190.4" y2="438.1" stroke="#d0d0d0" stroke-width="0.8"/>
<line x1="102.1" y1="523.4" x2="102.4" y2="427.2" stroke="#d0d0d0" stroke-width="0.8"/>
<line x1="27.6" y1="551.7" x2="102.1" y2="523.4" stroke="#d0d0d0" stroke-width="0.8"/>
<line x1="102.1" y1="523.4" x2="185.4" y2="546.6" stroke="#d0d0d0" stroke-width="0.8"/>
<line x1="27.6" y1="551.7" x2="23.7" y2="440.1" stroke="#8a8a8a" stroke-width="0.8"/>
<line x1="27.6" y1="551.7" x2="115.1" y2="584.0" stroke="#8a8a8a" stroke-width="0.8"/>
<line x1="115.1" y1="584.0" x2="185.4" y2="546.6" stroke="#8a8a8a" stroke-width="0.8"/>
<polygon points="107.1,533.4 116.3,529.7 117.1,446.9 107.6,448.0" fill="#4a88b8"/>
<polygon points="96.8,530.4 107.1,533.4 107.6,448.0 96.9,447.1" fill="#72c0f4"/>
<polygon points="96.9,447.1 107.6,448.0 117.1,446.9 106.5,446.0" fill="#5090c4"/>
<polygon points="89.7,540.5 99.6,536.5 99.8,458.2 89.5,459.6" fill="#4a88b8"/>
<polygon points="79.3,537.3 89.7,540.5 89.5,459.6 78.7,458.5" fill="#72c0f4"/>
<polygon points="78.7,458.5 89.5,459.6 99.8,458.2 89.0,457.2" fill="#5090c4"/>
<polygon points="70.9,548.2 81.6,543.8 80.9,446.2 69.7,447.4" fill="#4a88b8"/>
<polygon points="60.5,544.7 70.9,548.2 69.7,447.4 58.7,446.4" fill="#72c0f4"/>
<polygon points="58.7,446.4 69.7,447.4 80.9,446.2 70.0,445.2" fill="#5090c4"/>
<polygon points="50.5,556.5 62.2,551.7 60.5,456.7 48.3,458.2" fill="#4a88b8"/>
<polygon points="40.0,552.7 50.5,556.5 48.3,458.2 37.3,457.0" fill="#72c0f4"/>
<polygon points="37.3,457.0 48.3,458.2 60.5,456.7 49.6,455.6" fill="#5090c4"/>
<polygon points="134.3,541.4 143.3,537.4 145.8,433.1 136.4,434.1" fill="#3aa8ac"/>
<polygon points="123.2,538.2 134.3,541.4 136.4,434.1 124.6,433.3" fill="#62f4f6"/>
<polygon points="124.6,433.3 136.4,434.1 145.8,433.1 134.1,432.3" fill="#3eb4b8"/>
<polygon points="117.3,549.2 127.0,544.8 128.3,464.6 118.2,466.1" fill="#3aa8ac"/>
<polygon points="106.0,545.6 117.3,549.2 118.2,466.1 106.4,464.9" fill="#62f4f6"/>
<polygon points="106.4,464.9 118.2,466.1 128.3,464.6 116.6,463.5" fill="#3eb4b8"/>
<polygon points="98.8,557.5 109.4,552.8 110.0,457.9 99.0,459.4" fill="#3aa8ac"/>
<polygon points="87.3,553.7 98.8,557.5 99.0,459.4 86.9,458.2" fill="#62f4f6"/>
<polygon points="86.9,458.2 99.0,459.4 110.0,457.9 98.1,456.8" fill="#3eb4b8"/>
<polygon points="78.6,566.7 90.2,561.5 89.9,460.3 77.7,461.9" fill="#3aa8ac"/>
<polygon points="67.1,562.5 78.6,566.7 77.7,461.9 65.6,460.6" fill="#62f4f6"/>
<polygon points="65.6,460.6 77.7,461.9 89.9,460.3 77.8,459.1" fill="#3eb4b8"/>
<polygon points="164.1,550.2 172.8,545.7 175.7,470.5 166.8,472.1" fill="#3ea280"/>
<polygon points="151.9,546.6 164.1,550.2 166.8,472.1 154.0,470.8" fill="#6ef5c6"/>
<polygon points="154.0,470.8 166.8,472.1 175.7,470.5 163.1,469.3" fill="#44ae8c"/>
<polygon points="147.5,558.6 157.0,553.8 159.0,489.7 149.3,491.5" fill="#3ea280"/>
<polygon points="135.1,554.7 147.5,558.6 149.3,491.5 136.4,490.0" fill="#6ef5c6"/>
<polygon points="136.4,490.0 149.3,491.5 159.0,489.7 146.2,488.2" fill="#44ae8c"/>
<polygon points="129.5,567.8 139.8,562.6 141.5,486.2 130.8,488.1" fill="#3ea280"/>
<polygon points="116.8,563.6 129.5,567.8 130.8,488.1 117.7,486.6" fill="#6ef5c6"/>
<polygon points="117.7,486.6 130.8,488.1 141.5,486.2 128.5,484.7" fill="#44ae8c"/>
<polygon points="109.7,577.9 121.0,572.2 122.1,485.4 110.3,487.4" fill="#3ea280"/>
<polygon points="96.9,573.3 109.7,577.9 110.3,487.4 97.0,485.7" fill="#6ef5c6"/>
<polygon points="97.0,485.7 110.3,487.4 122.1,485.4 108.8,483.8" fill="#44ae8c"/>
<line x1="27.6" y1="551.7" x2="29.6" y2="552.3" stroke="#8a8a8a" stroke-width="0.6"/>
<text x="26.4" y="553.8" font-size="6.3" text-anchor="end" transform="rotate(-32.0 26.4 553.8)" fill="#000">0.0</text>
<line x1="27.2" y1="539.9" x2="29.2" y2="540.5" stroke="#8a8a8a" stroke-width="0.6"/>
<text x="26.0" y="542.0" font-size="6.3" text-anchor="end" transform="rotate(-29.0 26.0 542.0)" fill="#000">0.5</text>
<line x1="26.8" y1="528.0" x2="28.8" y2="528.6" stroke="#8a8a8a" stroke-width="0.6"/>
<text x="25.6" y="530.1" font-size="6.3" text-anchor="end" transform="rotate(-26.0 25.6 530.1)" fill="#000">1.0</text>
<line x1="26.4" y1="515.9" x2="28.4" y2="516.5" stroke="#8a8a8a" stroke-width="0.6"/>
<text x="25.2" y="518.0" font-size="6.3" text-anchor="end" transform="rotate(-23.0 25.2 518.0)" fill="#000">1.5</text>
<line x1="25.9" y1="503.6" x2="27.9" y2="504.2" stroke="#8a8a8a" stroke-width="0.6"/>
<text x="24.7" y="505.7" font-size="6.3" text-anchor="end" transform="rotate(-20.0 24.7 505.7)" fill="#000">2.0</text>
<line x1="25.5" y1="491.3" x2="27.5" y2="491.9" stroke="#8a8a8a" stroke-width="0.6"/>
<text x="24.3" y="493.4" font-size="6.3" text-anchor="end" transform="rotate(-17.0 24.3 493.4)" fill="#000">2.5</text>
<line x1="25.1" y1="478.7" x2="27.1" y2="479.3" stroke="#8a8a8a" stroke-width="0.6"/>
<text x="23.9" y="480.8" font-size="6.3" text-anchor="end" transform="rotate(-14.0 23.9 480.8)" fill="#000">3.0</text>
<line x1="24.6" y1="466.0" x2="26.6" y2="466.6" stroke="#8a8a8a" stroke-width="0.6"/>
<text x="23.4" y="468.1" font-size="6.3" text-anchor="end" transform="rotate(-11.0 23.4 468.1)" fill="#000">3.5</text>
<line x1="24.2" y1="453.2" x2="26.2" y2="453.8" stroke="#8a8a8a" stroke-width="0.6"/>
<text x="23.0" y="455.3" font-size="6.3" text-anchor="end" transform="rotate(-8.0 23.0 455.3)" fill="#000">4.0</text>
<line x1="23.7" y1="440.1" x2="25.7" y2="440.7" stroke="#8a8a8a" stroke-width="0.6"/>
<text x="22.5" y="442.2" font-size="6.3" text-anchor="end" transform="rotate(-5.0 22.5 442.2)" fill="#000">4.5</text>
<text x="8.4" y="505.2" font-size="6.4" text-anchor="middle" transform="rotate(90.0 8.4 505.2)" fill="#000" dominant-baseline="middle">MAE(%)</text>
<text x="37.0" y="564.9" font-size="8.6" text-anchor="middle" fill="#000">PO</text>
<text x="63.7" y="574.4" font-size="8.6" text-anchor="middle" fill="#000">SO</text>
<text x="88.2" y="585.0" font-size="8.6" text-anchor="middle" fill="#000">TCK</text>
<text x="128.8" y="585.9" font-size="8.3" text-anchor="middle" transform="rotate(-10.0 128.8 585.9)" fill="#000">0°</text>
<text x="146.8" y="576.6" font-size="8.3" text-anchor="middle" transform="rotate(-10.0 146.8 576.6)" fill="#000">45°</text>
<text x="164.0" y="567.5" font-size="8.3" text-anchor="middle" transform="rotate(-10.0 164.0 567.5)" fill="#000">90°</text>
<text x="182.0" y="559.4" font-size="8.3" text-anchor="middle" transform="rotate(-10.0 182.0 559.4)" fill="#000">135°</text>
<text transform="translate(25.5 568.9) rotate(22.63)" x="0" y="0" font-size="9.5" font-weight="bold" textLength="63.9" lengthAdjust="spacingAndGlyphs">Convolution kernel</text>
<text transform="translate(137.0 590.7) rotate(-28.86)" x="0" y="0" font-size="9.5" font-weight="bold" textLength="62.6" lengthAdjust="spacingAndGlyphs">Different gradients</text>
<line x1="217.8" y1="546.6" x2="285.6" y2="510.3" stroke="#dadada" stroke-width="0.7"/>
<line x1="285.6" y1="510.3" x2="363.1" y2="540.6" stroke="#dadada" stroke-width="0.7"/>
<line x1="217.1" y1="536.0" x2="285.6" y2="500.7" stroke="#dadada" stroke-width="0.7"/>
<line x1="285.6" y1="500.7" x2="364.0" y2="530.1" stroke="#dadada" stroke-width="0.7"/>
<line x1="216.4" y1="525.1" x2="285.6" y2="490.9" stroke="#dadada" stroke-width="0.7"/>
<line x1="285.6" y1="490.9" x2="364.9" y2="519.3" stroke="#dadada" stroke-width="0.7"/>
<line x1="215.6" y1="514.0" x2="285.6" y2="480.9" stroke="#dadada" stroke-width="0.7"/>
<line x1="285.6" y1="480.9" x2="365.8" y2="508.4" stroke="#dadada" stroke-width="0.7"/>
<line x1="214.8" y1="502.7" x2="285.6" y2="470.7" stroke="#dadada" stroke-width="0.7"/>
<line x1="285.6" y1="470.7" x2="366.7" y2="497.1" stroke="#dadada" stroke-width="0.7"/>
<line x1="214.0" y1="491.1" x2="285.6" y2="460.3" stroke="#dadada" stroke-width="0.7"/>
<line x1="285.6" y1="460.3" x2="367.7" y2="485.7" stroke="#dadada" stroke-width="0.7"/>
<line x1="213.2" y1="479.2" x2="285.7" y2="449.7" stroke="#dadada" stroke-width="0.7"/>
<line x1="285.7" y1="449.7" x2="368.6" y2="473.9" stroke="#dadada" stroke-width="0.7"/>
<line x1="212.3" y1="467.0" x2="285.7" y2="438.9" stroke="#dadada" stroke-width="0.7"/>
<line x1="285.7" y1="438.9" x2="369.6" y2="461.9" stroke="#dadada" stroke-width="0.7"/>
<line x1="211.5" y1="454.5" x2="285.7" y2="427.8" stroke="#dadada" stroke-width="0.7"/>
<line x1="285.7" y1="427.8" x2="370.6" y2="449.6" stroke="#dadada" stroke-width="0.7"/>
<line x1="227.4" y1="541.5" x2="221.6" y2="444.5" stroke="#dadada" stroke-width="0.7"/>
<line x1="245.4" y1="531.8" x2="241.7" y2="437.5" stroke="#dadada" stroke-width="0.7"/>
<line x1="262.3" y1="522.8" x2="260.2" y2="431.1" stroke="#dadada" stroke-width="0.7"/>
<line x1="278.0" y1="514.4" x2="277.5" y2="425.0" stroke="#dadada" stroke-width="0.7"/>
<line x1="297.3" y1="514.9" x2="298.5" y2="425.3" stroke="#dadada" stroke-width="0.7"/>
<line x1="322.1" y1="524.6" x2="325.7" y2="432.1" stroke="#dadada" stroke-width="0.7"/>
<line x1="348.9" y1="535.0" x2="355.3" y2="439.4" stroke="#dadada" stroke-width="0.7"/>
<line x1="211.0" y1="448.2" x2="285.7" y2="422.2" stroke="#d0d0d0" stroke-width="0.8"/>
<line x1="285.7" y1="422.2" x2="371.1" y2="443.3" stroke="#d0d0d0" stroke-width="0.8"/>
<line x1="363.1" y1="540.6" x2="371.1" y2="443.3" stroke="#d0d0d0" stroke-width="0.8"/>
<line x1="285.6" y1="510.3" x2="285.7" y2="422.2" stroke="#d0d0d0" stroke-width="0.8"/>
<line x1="217.8" y1="546.6" x2="285.6" y2="510.3" stroke="#d0d0d0" stroke-width="0.8"/>
<line x1="285.6" y1="510.3" x2="363.1" y2="540.6" stroke="#d0d0d0" stroke-width="0.8"/>
<line x1="217.8" y1="546.6" x2="211.0" y2="448.2" stroke="#8a8a8a" stroke-width="0.8"/>
<line x1="217.8" y1="546.6" x2="298.3" y2="587.2" stroke="#8a8a8a" stroke-width="0.8"/>
<line x1="298.3" y1="587.2" x2="363.1" y2="540.6" stroke="#8a8a8a" stroke-width="0.8"/>
<polygon points="290.3,523.5 298.8,518.6 300.0,436.8 290.9,438.8" fill="#a8805e"/>
<polygon points="280.7,519.5 290.3,523.5 290.9,438.8 280.5,437.2" fill="#f6b886"/>
<polygon points="280.5,437.2 290.9,438.8 300.0,436.8 289.7,435.3" fill="#bc9068"/>
<polygon points="274.4,532.5 283.5,527.4 283.4,454.4 273.7,456.7" fill="#a8805e"/>
<polygon points="264.7,528.3 274.4,532.5 273.7,456.7 263.3,454.9" fill="#f6b886"/>
<polygon points="263.3,454.9 273.7,456.7 283.4,454.4 273.1,452.7" fill="#bc9068"/>
<polygon points="257.3,542.3 267.0,536.7 265.7,461.6 255.2,464.0" fill="#a8805e"/>
<polygon points="247.6,537.8 257.3,542.3 255.2,464.0 244.8,462.0" fill="#f6b886"/>
<polygon points="244.8,462.0 255.2,464.0 265.7,461.6 255.3,459.7" fill="#bc9068"/>
<polygon points="238.9,552.7 249.4,546.8 246.8,472.7 235.5,475.4" fill="#a8805e"/>
<polygon points="229.2,547.9 238.9,552.7 235.5,475.4 225.0,473.2" fill="#f6b886"/>
<polygon points="225.0,473.2 235.5,475.4 246.8,472.7 236.3,470.7" fill="#bc9068"/>
<polygon points="315.7,533.8 324.1,528.6 327.7,438.0 318.7,440.1" fill="#b06464"/>
<polygon points="305.3,529.6 315.7,533.8 318.7,440.1 307.3,438.4" fill="#f89090"/>
<polygon points="307.3,438.4 318.7,440.1 327.7,438.0 316.4,436.4" fill="#c06e6e"/>
<polygon points="300.0,543.7 308.9,538.1 311.0,458.6 301.3,461.0" fill="#b06464"/>
<polygon points="289.5,539.1 300.0,543.7 301.3,461.0 289.9,459.1" fill="#f89090"/>
<polygon points="289.9,459.1 301.3,461.0 311.0,458.6 299.6,456.8" fill="#c06e6e"/>
<polygon points="283.1,554.2 292.7,548.2 293.5,462.6 283.0,465.1" fill="#b06464"/>
<polygon points="272.5,549.3 283.1,554.2 283.0,465.1 271.5,463.1" fill="#f89090"/>
<polygon points="271.5,463.1 283.0,465.1 293.5,462.6 282.0,460.6" fill="#c06e6e"/>
<polygon points="264.9,565.6 275.3,559.1 274.6,480.2 263.3,483.1" fill="#b06464"/>
<polygon points="254.3,560.3 264.9,565.6 263.3,483.1 251.8,480.8" fill="#f89090"/>
<polygon points="251.8,480.8 263.3,483.1 274.6,480.2 263.1,478.0" fill="#c06e6e"/>
<polygon points="343.3,545.0 351.4,539.4 356.3,468.3 347.6,470.9" fill="#b04890"/>
<polygon points="332.0,540.4 343.3,545.0 347.6,470.9 335.4,468.8" fill="#f870d0"/>
<polygon points="335.4,468.8 347.6,470.9 356.3,468.3 344.2,466.4" fill="#c050a0"/>
<polygon points="327.9,555.7 336.6,549.7 340.2,484.0 330.9,486.7" fill="#b04890"/>
<polygon points="316.4,550.8 327.9,555.7 330.9,486.7 318.6,484.5" fill="#f870d0"/>
<polygon points="318.6,484.5 330.9,486.7 340.2,484.0 328.0,481.8" fill="#c050a0"/>
<polygon points="311.3,567.3 320.7,560.7 323.5,487.6 313.4,490.6" fill="#b04890"/>
<polygon points="299.7,561.9 311.3,567.3 313.4,490.6 300.9,488.2" fill="#f870d0"/>
<polygon points="300.9,488.2 313.4,490.6 323.5,487.6 311.1,485.3" fill="#c050a0"/>
<polygon points="293.4,579.7 303.6,572.6 305.2,492.1 294.2,495.3" fill="#b04890"/>
<polygon points="281.7,573.9 293.4,579.7 294.2,495.3 281.5,492.8" fill="#f870d0"/>
<polygon points="281.5,492.8 294.2,495.3 305.2,492.1 292.6,489.7" fill="#c050a0"/>
<line x1="217.8" y1="546.6" x2="219.8" y2="547.2" stroke="#8a8a8a" stroke-width="0.6"/>
<text x="216.6" y="548.7" font-size="6.3" text-anchor="end" transform="rotate(-32.0 216.6 548.7)" fill="#000">0</text>
<line x1="217.1" y1="536.0" x2="219.1" y2="536.6" stroke="#8a8a8a" stroke-width="0.6"/>
<text x="215.9" y="538.1" font-size="6.3" text-anchor="end" transform="rotate(-28.8 215.9 538.1)" fill="#000">1</text>
<line x1="216.4" y1="525.1" x2="218.4" y2="525.7" stroke="#8a8a8a" stroke-width="0.6"/>
<text x="215.2" y="527.2" font-size="6.3" text-anchor="end" transform="rotate(-25.6 215.2 527.2)" fill="#000">2</text>
<line x1="215.6" y1="514.0" x2="217.6" y2="514.6" stroke="#8a8a8a" stroke-width="0.6"/>
<text x="214.4" y="516.1" font-size="6.3" text-anchor="end" transform="rotate(-22.5 214.4 516.1)" fill="#000">3</text>
<line x1="214.8" y1="502.7" x2="216.8" y2="503.3" stroke="#8a8a8a" stroke-width="0.6"/>
<text x="213.6" y="504.8" font-size="6.3" text-anchor="end" transform="rotate(-19.3 213.6 504.8)" fill="#000">4</text>
<line x1="214.0" y1="491.1" x2="216.0" y2="491.7" stroke="#8a8a8a" stroke-width="0.6"/>
<text x="212.8" y="493.2" font-size="6.3" text-anchor="end" transform="rotate(-16.1 212.8 493.2)" fill="#000">5</text>
<line x1="213.2" y1="479.2" x2="215.2" y2="479.8" stroke="#8a8a8a" stroke-width="0.6"/>
<text x="212.0" y="481.3" font-size="6.3" text-anchor="end" transform="rotate(-12.9 212.0 481.3)" fill="#000">6</text>
<line x1="212.3" y1="467.0" x2="214.3" y2="467.6" stroke="#8a8a8a" stroke-width="0.6"/>
<text x="211.1" y="469.1" font-size="6.3" text-anchor="end" transform="rotate(-9.8 211.1 469.1)" fill="#000">7</text>
<line x1="211.5" y1="454.5" x2="213.5" y2="455.1" stroke="#8a8a8a" stroke-width="0.6"/>
<text x="210.3" y="456.6" font-size="6.3" text-anchor="end" transform="rotate(-6.6 210.3 456.6)" fill="#000">8</text>
<text x="206.6" y="506.6" font-size="6.4" text-anchor="middle" transform="rotate(90.0 206.6 506.6)" fill="#000" dominant-baseline="middle">RMSE(%)</text>
<text x="223.5" y="558.8" font-size="8.6" text-anchor="middle" fill="#000">PO</text>
<text x="249.6" y="572.4" font-size="8.6" text-anchor="middle" fill="#000">SO</text>
<text x="274.8" y="586.7" font-size="8.6" text-anchor="middle" fill="#000">TCK</text>
<text x="312.7" y="586.6" font-size="8.3" text-anchor="middle" transform="rotate(-10.0 312.7 586.6)" fill="#000">0°</text>
<text x="332.7" y="573.0" font-size="8.3" text-anchor="middle" transform="rotate(-10.0 332.7 573.0)" fill="#000">45°</text>
<text x="348.2" y="562.0" font-size="8.3" text-anchor="middle" transform="rotate(-10.0 348.2 562.0)" fill="#000">90°</text>
<text x="364.5" y="551.2" font-size="8.3" text-anchor="middle" transform="rotate(-10.0 364.5 551.2)" fill="#000">135°</text>
<text transform="translate(208.7 564.0) rotate(26.57)" x="0" y="0" font-size="9.5" font-weight="bold" textLength="63.5" lengthAdjust="spacingAndGlyphs">Convolution kernel</text>
<text transform="translate(317.3 591.8) rotate(-35.94)" x="0" y="0" font-size="9.5" font-weight="bold" textLength="65.1" lengthAdjust="spacingAndGlyphs">Different gradients</text>
<line x1="27.3" y1="753.7" x2="101.3" y2="726.3" stroke="#dadada" stroke-width="0.7"/>
<line x1="101.3" y1="726.3" x2="185.0" y2="749.6" stroke="#dadada" stroke-width="0.7"/>
<line x1="26.9" y1="743.1" x2="101.4" y2="717.0" stroke="#dadada" stroke-width="0.7"/>
<line x1="101.4" y1="717.0" x2="185.5" y2="739.2" stroke="#dadada" stroke-width="0.7"/>
<line x1="26.6" y1="732.3" x2="101.4" y2="707.6" stroke="#dadada" stroke-width="0.7"/>
<line x1="101.4" y1="707.6" x2="186.0" y2="728.7" stroke="#dadada" stroke-width="0.7"/>
<line x1="26.2" y1="721.4" x2="101.5" y2="698.1" stroke="#dadada" stroke-width="0.7"/>
<line x1="101.5" y1="698.1" x2="186.5" y2="718.1" stroke="#dadada" stroke-width="0.7"/>
<line x1="25.9" y1="710.3" x2="101.6" y2="688.6" stroke="#dadada" stroke-width="0.7"/>
<line x1="101.6" y1="688.6" x2="187.1" y2="707.3" stroke="#dadada" stroke-width="0.7"/>
<line x1="25.5" y1="699.2" x2="101.6" y2="678.9" stroke="#dadada" stroke-width="0.7"/>
<line x1="101.6" y1="678.9" x2="187.6" y2="696.5" stroke="#dadada" stroke-width="0.7"/>
<line x1="25.2" y1="687.9" x2="101.7" y2="669.1" stroke="#dadada" stroke-width="0.7"/>
<line x1="101.7" y1="669.1" x2="188.1" y2="685.5" stroke="#dadada" stroke-width="0.7"/>
<line x1="24.8" y1="676.5" x2="101.7" y2="659.3" stroke="#dadada" stroke-width="0.7"/>
<line x1="101.7" y1="659.3" x2="188.7" y2="674.4" stroke="#dadada" stroke-width="0.7"/>
<line x1="24.4" y1="664.9" x2="101.8" y2="649.4" stroke="#dadada" stroke-width="0.7"/>
<line x1="101.8" y1="649.4" x2="189.2" y2="663.2" stroke="#dadada" stroke-width="0.7"/>
<line x1="24.0" y1="653.2" x2="101.9" y2="639.3" stroke="#dadada" stroke-width="0.7"/>
<line x1="101.9" y1="639.3" x2="189.8" y2="651.8" stroke="#dadada" stroke-width="0.7"/>
<line x1="23.7" y1="641.4" x2="101.9" y2="629.2" stroke="#dadada" stroke-width="0.7"/>
<line x1="101.9" y1="629.2" x2="190.4" y2="640.3" stroke="#dadada" stroke-width="0.7"/>
<line x1="37.8" y1="749.8" x2="34.9" y2="639.6" stroke="#dadada" stroke-width="0.7"/>
<line x1="57.7" y1="742.4" x2="56.0" y2="636.4" stroke="#dadada" stroke-width="0.7"/>
<line x1="76.1" y1="735.6" x2="75.4" y2="633.3" stroke="#dadada" stroke-width="0.7"/>
<line x1="93.2" y1="729.3" x2="93.4" y2="630.5" stroke="#dadada" stroke-width="0.7"/>
<line x1="113.9" y1="729.8" x2="115.1" y2="630.8" stroke="#dadada" stroke-width="0.7"/>
<line x1="140.6" y1="737.2" x2="143.3" y2="634.4" stroke="#dadada" stroke-width="0.7"/>
<line x1="169.5" y1="745.3" x2="174.0" y2="638.3" stroke="#dadada" stroke-width="0.7"/>
<line x1="23.7" y1="641.4" x2="101.9" y2="629.2" stroke="#d0d0d0" stroke-width="0.8"/>
<line x1="101.9" y1="629.2" x2="190.4" y2="640.3" stroke="#d0d0d0" stroke-width="0.8"/>
<line x1="185.0" y1="749.6" x2="190.4" y2="640.3" stroke="#d0d0d0" stroke-width="0.8"/>
<line x1="101.3" y1="726.3" x2="101.9" y2="629.2" stroke="#d0d0d0" stroke-width="0.8"/>
<line x1="27.3" y1="753.7" x2="101.3" y2="726.3" stroke="#d0d0d0" stroke-width="0.8"/>
<line x1="101.3" y1="726.3" x2="185.0" y2="749.6" stroke="#d0d0d0" stroke-width="0.8"/>
<line x1="27.3" y1="753.7" x2="23.7" y2="641.4" stroke="#8a8a8a" stroke-width="0.8"/>
<line x1="27.3" y1="753.7" x2="115.2" y2="785.8" stroke="#8a8a8a" stroke-width="0.8"/>
<line x1="115.2" y1="785.8" x2="185.0" y2="749.6" stroke="#8a8a8a" stroke-width="0.8"/>
<polygon points="106.5,736.2 115.6,732.6 116.6,658.2 107.1,659.4" fill="#4a88b8"/>
<polygon points="96.1,733.2 106.5,736.2 107.1,659.4 96.4,658.4" fill="#72c0f4"/>
<polygon points="96.4,658.4 107.1,659.4 116.6,658.2 105.9,657.2" fill="#5090c4"/>
<polygon points="89.2,743.1 99.0,739.2 99.4,662.3 89.2,663.6" fill="#4a88b8"/>
<polygon points="78.7,739.8 89.2,743.1 89.2,663.6 78.3,662.4" fill="#72c0f4"/>
<polygon points="78.3,662.4 89.2,663.6 99.4,662.3 88.6,661.2" fill="#5090c4"/>
<polygon points="70.5,750.5 81.1,746.3 80.8,662.1 69.7,663.5" fill="#4a88b8"/>
<polygon points="60.0,747.0 70.5,750.5 69.7,663.5 58.7,662.3" fill="#72c0f4"/>
<polygon points="58.7,662.3 69.7,663.5 80.8,662.1 69.9,661.0" fill="#5090c4"/>
<polygon points="50.3,758.5 61.8,754.0 60.3,650.4 48.1,651.7" fill="#4a88b8"/>
<polygon points="39.7,754.7 50.3,758.5 48.1,651.7 37.0,650.6" fill="#72c0f4"/>
<polygon points="37.0,650.6 48.1,651.7 60.3,650.4 49.3,649.4" fill="#5090c4"/>
<polygon points="133.8,744.2 142.8,740.3 144.9,662.1 135.7,663.4" fill="#3aa8ac"/>
<polygon points="122.6,740.9 133.8,744.2 135.7,663.4 123.9,662.3" fill="#62f4f6"/>
<polygon points="123.9,662.3 135.7,663.4 144.9,662.1 133.3,661.0" fill="#3eb4b8"/>
<polygon points="116.9,751.7 126.6,747.4 128.1,668.6 118.0,670.0" fill="#3aa8ac"/>
<polygon points="105.5,748.2 116.9,751.7 118.0,670.0 106.2,668.8" fill="#62f4f6"/>
<polygon points="106.2,668.8 118.0,670.0 128.1,668.6 116.3,667.4" fill="#3eb4b8"/>
<polygon points="98.5,759.8 109.0,755.2 109.9,667.2 99.0,668.7" fill="#3aa8ac"/>
<polygon points="87.0,756.0 98.5,759.8 99.0,668.7 86.9,667.4" fill="#62f4f6"/>
<polygon points="86.9,667.4 99.0,668.7 109.9,667.2 97.9,666.0" fill="#3eb4b8"/>
<polygon points="78.6,768.7 90.0,763.6 90.0,652.5 77.9,653.9" fill="#3aa8ac"/>
<polygon points="66.9,764.5 78.6,768.7 77.9,653.9 65.6,652.7" fill="#62f4f6"/>
<polygon points="65.6,652.7 77.9,653.9 90.0,652.5 77.8,651.4" fill="#3eb4b8"/>
<polygon points="163.7,752.9 172.3,748.6 175.5,673.9 166.6,675.4" fill="#3ea280"/>
<polygon points="151.4,749.4 163.7,752.9 166.6,675.4 153.8,674.2" fill="#6ef5c6"/>
<polygon points="153.8,674.2 166.6,675.4 175.5,673.9 162.9,672.7" fill="#44ae8c"/>
<polygon points="147.2,761.2 156.6,756.5 158.4,703.3 148.8,705.2" fill="#3ea280"/>
<polygon points="134.8,757.3 147.2,761.2 148.8,705.2 136.0,703.6" fill="#6ef5c6"/>
<polygon points="136.0,703.6 148.8,705.2 158.4,703.3 145.7,701.7" fill="#44ae8c"/>
<polygon points="129.3,770.1 139.5,765.0 141.8,676.1 131.2,677.8" fill="#3ea280"/>
<polygon points="116.6,765.9 129.3,770.1 131.2,677.8 117.9,676.3" fill="#6ef5c6"/>
<polygon points="117.9,676.3 131.2,677.8 141.8,676.1 128.7,674.7" fill="#44ae8c"/>
<polygon points="109.7,779.9 120.9,774.3 122.4,684.9 110.7,686.8" fill="#3ea280"/>
<polygon points="96.9,775.3 109.7,779.9 110.7,686.8 97.2,685.2" fill="#6ef5c6"/>
<polygon points="97.2,685.2 110.7,686.8 122.4,684.9 109.0,683.4" fill="#44ae8c"/>
<line x1="27.3" y1="753.7" x2="29.3" y2="754.3" stroke="#8a8a8a" stroke-width="0.6"/>
<text x="26.1" y="755.8" font-size="6.3" text-anchor="end" transform="rotate(-32.0 26.1 755.8)" fill="#000">0.0</text>
<line x1="26.9" y1="743.1" x2="28.9" y2="743.7" stroke="#8a8a8a" stroke-width="0.6"/>
<text x="25.7" y="745.2" font-size="6.3" text-anchor="end" transform="rotate(-29.3 25.7 745.2)" fill="#000">0.5</text>
<line x1="26.6" y1="732.3" x2="28.6" y2="732.9" stroke="#8a8a8a" stroke-width="0.6"/>
<text x="25.4" y="734.4" font-size="6.3" text-anchor="end" transform="rotate(-26.6 25.4 734.4)" fill="#000">1.0</text>
<line x1="26.2" y1="721.4" x2="28.2" y2="722.0" stroke="#8a8a8a" stroke-width="0.6"/>
<text x="25.0" y="723.5" font-size="6.3" text-anchor="end" transform="rotate(-23.9 25.0 723.5)" fill="#000">1.5</text>
<line x1="25.9" y1="710.3" x2="27.9" y2="710.9" stroke="#8a8a8a" stroke-width="0.6"/>
<text x="24.7" y="712.4" font-size="6.3" text-anchor="end" transform="rotate(-21.2 24.7 712.4)" fill="#000">2.0</text>
<line x1="25.5" y1="699.2" x2="27.5" y2="699.8" stroke="#8a8a8a" stroke-width="0.6"/>
<text x="24.3" y="701.3" font-size="6.3" text-anchor="end" transform="rotate(-18.5 24.3 701.3)" fill="#000">2.5</text>
<line x1="25.2" y1="687.9" x2="27.2" y2="688.5" stroke="#8a8a8a" stroke-width="0.6"/>
<text x="24.0" y="690.0" font-size="6.3" text-anchor="end" transform="rotate(-15.8 24.0 690.0)" fill="#000">3.0</text>
<line x1="24.8" y1="676.5" x2="26.8" y2="677.1" stroke="#8a8a8a" stroke-width="0.6"/>
<text x="23.6" y="678.6" font-size="6.3" text-anchor="end" transform="rotate(-13.1 23.6 678.6)" fill="#000">3.5</text>
<line x1="24.4" y1="664.9" x2="26.4" y2="665.5" stroke="#8a8a8a" stroke-width="0.6"/>
<text x="23.2" y="667.0" font-size="6.3" text-anchor="end" transform="rotate(-10.4 23.2 667.0)" fill="#000">4.0</text>
<line x1="24.0" y1="653.2" x2="26.0" y2="653.8" stroke="#8a8a8a" stroke-width="0.6"/>
<text x="22.8" y="655.3" font-size="6.3" text-anchor="end" transform="rotate(-7.7 22.8 655.3)" fill="#000">4.5</text>
<line x1="23.7" y1="641.4" x2="25.7" y2="642.0" stroke="#8a8a8a" stroke-width="0.6"/>
<text x="22.5" y="643.5" font-size="6.3" text-anchor="end" transform="rotate(-5.0 22.5 643.5)" fill="#000">5.0</text>
<text x="8.2" y="707.0" font-size="6.4" text-anchor="middle" transform="rotate(90.0 8.2 707.0)" fill="#000" dominant-baseline="middle">MAE(%)</text>
<text x="37.0" y="767.0" font-size="8.6" text-anchor="middle" fill="#000">PO</text>
<text x="64.0" y="776.8" font-size="8.6" text-anchor="middle" fill="#000">SO</text>
<text x="88.2" y="787.5" font-size="8.6" text-anchor="middle" fill="#000">TCK</text>
<text x="129.6" y="787.5" font-size="8.3" text-anchor="middle" transform="rotate(-10.0 129.6 787.5)" fill="#000">0°</text>
<text x="148.5" y="778.2" font-size="8.3" text-anchor="middle" transform="rotate(-10.0 148.5 778.2)" fill="#000">45°</text>
<text x="165.6" y="769.2" font-size="8.3" text-anchor="middle" transform="rotate(-10.0 165.6 769.2)" fill="#000">90°</text>
<text x="183.6" y="761.8" font-size="8.3" text-anchor="middle" transform="rotate(-10.0 183.6 761.8)" fill="#000">135°</text>
<text transform="translate(25.1 770.5) rotate(22.50)" x="0" y="0" font-size="9.5" font-weight="bold" textLength="64.3" lengthAdjust="spacingAndGlyphs">Convolution kernel</text>
<text transform="translate(138.6 793.2) rotate(-29.53)" x="0" y="0" font-size="9.5" font-weight="bold" textLength="63.1" lengthAdjust="spacingAndGlyphs">Different gradients</text>
<line x1="221.2" y1="748.3" x2="287.1" y2="713.2" stroke="#dadada" stroke-width="0.7"/>
<line x1="287.1" y1="713.2" x2="363.1" y2="742.9" stroke="#dadada" stroke-width="0.7"/>
<line x1="220.2" y1="735.6" x2="287.2" y2="701.7" stroke="#dadada" stroke-width="0.7"/>
<line x1="287.2" y1="701.7" x2="364.3" y2="730.4" stroke="#dadada" stroke-width="0.7"/>
<line x1="219.2" y1="722.4" x2="287.3" y2="689.8" stroke="#dadada" stroke-width="0.7"/>
<line x1="287.3" y1="689.8" x2="365.6" y2="717.4" stroke="#dadada" stroke-width="0.7"/>
<line x1="218.2" y1="708.9" x2="287.4" y2="677.6" stroke="#dadada" stroke-width="0.7"/>
<line x1="287.4" y1="677.6" x2="366.9" y2="704.1" stroke="#dadada" stroke-width="0.7"/>
<line x1="217.2" y1="694.9" x2="287.4" y2="665.1" stroke="#dadada" stroke-width="0.7"/>
<line x1="287.4" y1="665.1" x2="368.2" y2="690.3" stroke="#dadada" stroke-width="0.7"/>
<line x1="216.1" y1="680.5" x2="287.5" y2="652.2" stroke="#dadada" stroke-width="0.7"/>
<line x1="287.5" y1="652.2" x2="369.6" y2="676.1" stroke="#dadada" stroke-width="0.7"/>
<line x1="215.0" y1="665.5" x2="287.6" y2="639.0" stroke="#dadada" stroke-width="0.7"/>
<line x1="287.6" y1="639.0" x2="371.1" y2="661.5" stroke="#dadada" stroke-width="0.7"/>
<line x1="213.9" y1="650.1" x2="287.7" y2="625.3" stroke="#dadada" stroke-width="0.7"/>
<line x1="287.7" y1="625.3" x2="372.6" y2="646.3" stroke="#dadada" stroke-width="0.7"/>
<line x1="230.5" y1="743.4" x2="224.4" y2="646.5" stroke="#dadada" stroke-width="0.7"/>
<line x1="248.1" y1="734.0" x2="244.2" y2="639.9" stroke="#dadada" stroke-width="0.7"/>
<line x1="264.5" y1="725.3" x2="262.6" y2="633.7" stroke="#dadada" stroke-width="0.7"/>
<line x1="279.8" y1="717.1" x2="279.6" y2="628.0" stroke="#dadada" stroke-width="0.7"/>
<line x1="298.6" y1="717.7" x2="300.4" y2="628.4" stroke="#dadada" stroke-width="0.7"/>
<line x1="322.9" y1="727.2" x2="327.4" y2="635.1" stroke="#dadada" stroke-width="0.7"/>
<line x1="349.1" y1="737.5" x2="356.8" y2="642.4" stroke="#dadada" stroke-width="0.7"/>
<line x1="213.9" y1="650.1" x2="287.7" y2="625.3" stroke="#d0d0d0" stroke-width="0.8"/>
<line x1="287.7" y1="625.3" x2="372.6" y2="646.3" stroke="#d0d0d0" stroke-width="0.8"/>
<line x1="363.1" y1="742.9" x2="372.6" y2="646.3" stroke="#d0d0d0" stroke-width="0.8"/>
<line x1="287.1" y1="713.2" x2="287.7" y2="625.3" stroke="#d0d0d0" stroke-width="0.8"/>
<line x1="221.2" y1="748.3" x2="287.1" y2="713.2" stroke="#d0d0d0" stroke-width="0.8"/>
<line x1="287.1" y1="713.2" x2="363.1" y2="742.9" stroke="#d0d0d0" stroke-width="0.8"/>
<line x1="221.2" y1="748.3" x2="213.9" y2="650.1" stroke="#8a8a8a" stroke-width="0.8"/>
<line x1="221.2" y1="748.3" x2="300.4" y2="788.0" stroke="#8a8a8a" stroke-width="0.8"/>
<line x1="300.4" y1="788.0" x2="363.1" y2="742.9" stroke="#8a8a8a" stroke-width="0.8"/>
<polygon points="291.9,726.0 300.2,721.3 302.0,633.8 293.0,635.6" fill="#a8805e"/>
<polygon points="282.5,722.2 291.9,726.0 293.0,635.6 282.6,634.1" fill="#f6b886"/>
<polygon points="282.6,634.1 293.0,635.6 302.0,633.8 291.7,632.3" fill="#bc9068"/>
<polygon points="276.4,734.8 285.2,729.8 285.6,648.5 275.9,650.6" fill="#a8805e"/>
<polygon points="266.9,730.7 276.4,734.8 275.9,650.6 265.5,648.9" fill="#f6b886"/>
<polygon points="265.5,648.9 275.9,650.6 285.6,648.5 275.2,646.9" fill="#bc9068"/>
<polygon points="259.8,744.2 269.3,738.8 268.0,654.5 257.5,656.7" fill="#a8805e"/>
<polygon points="250.2,739.8 259.8,744.2 257.5,656.7 247.0,654.8" fill="#f6b886"/>
<polygon points="247.0,654.8 257.5,656.7 268.0,654.5 257.5,652.7" fill="#bc9068"/>
<polygon points="241.9,754.3 252.1,748.6 248.6,651.6 237.1,653.9" fill="#a8805e"/>
<polygon points="232.3,749.6 241.9,754.3 237.1,653.9 226.5,652.0" fill="#f6b886"/>
<polygon points="226.5,652.0 237.1,653.9 248.6,651.6 238.0,649.8" fill="#bc9068"/>
<polygon points="316.8,736.2 324.9,731.1 329.5,640.3 320.6,642.3" fill="#b06464"/>
<polygon points="306.6,732.0 316.8,736.2 320.6,642.3 309.3,640.6" fill="#f89090"/>
<polygon points="309.3,640.6 320.6,642.3 329.5,640.3 318.2,638.7" fill="#c06e6e"/>
<polygon points="301.6,745.7 310.2,740.3 313.1,653.6 303.6,655.8" fill="#b06464"/>
<polygon points="291.3,741.2 301.6,745.7 303.6,655.8 292.2,654.0" fill="#f89090"/>
<polygon points="292.2,654.0 303.6,655.8 313.1,653.6 301.8,651.8" fill="#c06e6e"/>
<polygon points="285.2,755.9 294.5,750.1 295.9,654.6 285.5,656.9" fill="#b06464"/>
<polygon points="274.8,751.1 285.2,755.9 285.5,656.9 273.9,655.0" fill="#f89090"/>
<polygon points="273.9,655.0 285.5,656.9 295.9,654.6 284.4,652.7" fill="#c06e6e"/>
<polygon points="267.5,766.9 277.5,760.6 277.0,651.7 265.5,654.2" fill="#b06464"/>
<polygon points="257.0,761.7 267.5,766.9 265.5,654.2 253.6,652.2" fill="#f89090"/>
<polygon points="253.6,652.2 265.5,654.2 277.0,651.7 265.2,649.8" fill="#c06e6e"/>
<polygon points="343.8,747.2 351.6,741.7 358.3,661.5 349.8,663.9" fill="#b04890"/>
<polygon points="332.7,742.7 343.8,747.2 349.8,663.9 337.6,661.9" fill="#f870d0"/>
<polygon points="337.6,661.9 349.8,663.9 358.3,661.5 346.2,659.7" fill="#c050a0"/>
<polygon points="328.9,757.5 337.4,751.6 341.6,687.4 332.6,690.1" fill="#b04890"/>
<polygon points="317.7,752.6 328.9,757.5 332.6,690.1 320.4,687.9" fill="#f870d0"/>
<polygon points="320.4,687.9 332.6,690.1 341.6,687.4 329.6,685.3" fill="#c050a0"/>
<polygon points="312.8,768.7 322.0,762.3 327.0,658.8 316.8,661.4" fill="#b04890"/>
<polygon points="301.5,763.4 312.8,768.7 316.8,661.4 303.9,659.2" fill="#f870d0"/>
<polygon points="303.9,659.2 316.8,661.4 327.0,658.8 314.3,656.8" fill="#c050a0"/>
<polygon points="295.4,780.7 305.3,773.9 308.3,672.9 297.2,675.8" fill="#b04890"/>
<polygon points="283.9,775.1 295.4,780.7 297.2,675.8 284.2,673.4" fill="#f870d0"/>
<polygon points="284.2,673.4 297.2,675.8 308.3,672.9 295.4,670.7" fill="#c050a0"/>
<line x1="221.2" y1="748.3" x2="223.2" y2="748.9" stroke="#8a8a8a" stroke-width="0.6"/>
<text x="220.0" y="750.4" font-size="6.3" text-anchor="end" transform="rotate(-32.0 220.0 750.4)" fill="#000">0</text>
<line x1="220.2" y1="735.6" x2="222.2" y2="736.2" stroke="#8a8a8a" stroke-width="0.6"/>
<text x="219.0" y="737.7" font-size="6.3" text-anchor="end" transform="rotate(-28.1 219.0 737.7)" fill="#000">1</text>
<line x1="219.2" y1="722.4" x2="221.2" y2="723.0" stroke="#8a8a8a" stroke-width="0.6"/>
<text x="218.0" y="724.5" font-size="6.3" text-anchor="end" transform="rotate(-24.3 218.0 724.5)" fill="#000">2</text>
<line x1="218.2" y1="708.9" x2="220.2" y2="709.5" stroke="#8a8a8a" stroke-width="0.6"/>
<text x="217.0" y="711.0" font-size="6.3" text-anchor="end" transform="rotate(-20.4 217.0 711.0)" fill="#000">3</text>
<line x1="217.2" y1="694.9" x2="219.2" y2="695.5" stroke="#8a8a8a" stroke-width="0.6"/>
<text x="216.0" y="697.0" font-size="6.3" text-anchor="end" transform="rotate(-16.6 216.0 697.0)" fill="#000">4</text>
<line x1="216.1" y1="680.5" x2="218.1" y2="681.1" stroke="#8a8a8a" stroke-width="0.6"/>
<text x="214.9" y="682.6" font-size="6.3" text-anchor="end" transform="rotate(-12.7 214.9 682.6)" fill="#000">5</text>
<line x1="215.0" y1="665.5" x2="217.0" y2="666.1" stroke="#8a8a8a" stroke-width="0.6"/>
<text x="213.8" y="667.6" font-size="6.3" text-anchor="end" transform="rotate(-8.9 213.8 667.6)" fill="#000">6</text>
<line x1="213.9" y1="650.1" x2="215.9" y2="650.7" stroke="#8a8a8a" stroke-width="0.6"/>
<text x="212.7" y="652.2" font-size="6.3" text-anchor="end" transform="rotate(-5.0 212.7 652.2)" fill="#000">7</text>
<text x="209.7" y="708.8" font-size="6.4" text-anchor="middle" transform="rotate(90.0 209.7 708.8)" fill="#000" dominant-baseline="middle">RMSE(%)</text>
<text x="227.0" y="760.2" font-size="8.6" text-anchor="middle" fill="#000">PO</text>
<text x="253.2" y="773.3" font-size="8.6" text-anchor="middle" fill="#000">SO</text>
<text x="278.2" y="787.2" font-size="8.6" text-anchor="middle" fill="#000">TCK</text>
<text x="316.3" y="787.0" font-size="8.3" text-anchor="middle" transform="rotate(-10.0 316.3 787.0)" fill="#000">0°</text>
<text x="334.3" y="773.9" font-size="8.3" text-anchor="middle" transform="rotate(-10.0 334.3 773.9)" fill="#000">45°</text>
<text x="350.6" y="763.3" font-size="8.3" text-anchor="middle" transform="rotate(-10.0 350.6 763.3)" fill="#000">90°</text>
<text x="369.5" y="751.8" font-size="8.3" text-anchor="middle" transform="rotate(-10.0 369.5 751.8)" fill="#000">135°</text>
<text transform="translate(214.7 762.9) rotate(27.91)" x="0" y="0" font-size="9.5" font-weight="bold" textLength="63.0" lengthAdjust="spacingAndGlyphs">Convolution kernel</text>
<text transform="translate(322.0 793.0) rotate(-35.97)" x="0" y="0" font-size="9.5" font-weight="bold" textLength="62.6" lengthAdjust="spacingAndGlyphs">Different gradients</text>
<text x="287.0" y="12.8" font-size="13.5" text-anchor="middle" font-weight="bold" font-style="italic" fill="#000">Spring</text>
<text x="287.0" y="217.0" font-size="13.5" text-anchor="middle" font-weight="bold" font-style="italic" fill="#000">Summer</text>
<text x="287.0" y="418.2" font-size="13.5" text-anchor="middle" font-weight="bold" font-style="italic" fill="#000">Autumn</text>
<text x="287.0" y="614.0" font-size="13.5" text-anchor="middle" font-weight="bold" font-style="italic" fill="#000">Winter</text>
<text x="104.6" y="198.8" font-size="9.1" text-anchor="middle" font-weight="bold" fill="#000">MAE(%)</text>
<text x="287.5" y="199.2" font-size="9.1" text-anchor="middle" font-weight="bold" fill="#000">RMSE(%)</text>
<text x="103.0" y="399.7" font-size="9.1" text-anchor="middle" font-weight="bold" fill="#000">MAE(%)</text>
<text x="285.9" y="400.3" font-size="9.1" text-anchor="middle" font-weight="bold" fill="#000">RMSE(%)</text>
<text x="106.5" y="595.3" font-size="9.1" text-anchor="middle" font-weight="bold" fill="#000">MAE(%)</text>
<text x="289.4" y="595.8" font-size="9.1" text-anchor="middle" font-weight="bold" fill="#000">RMSE(%)</text>
<text x="109.5" y="798.5" font-size="9.1" text-anchor="middle" font-weight="bold" fill="#000">MAE(%)</text>
<text x="292.1" y="800.2" font-size="9.1" text-anchor="middle" font-weight="bold" fill="#000">RMSE(%)</text>
<polygon points="460.0,98.4 470.9,109.3 460.0,120.2 449.1,109.3" fill="none" stroke="#e2e2e2" stroke-width="0.8"/>
<polygon points="460.0,87.5 481.8,109.3 460.0,131.1 438.2,109.3" fill="none" stroke="#e2e2e2" stroke-width="0.8"/>
<polygon points="460.0,76.6 492.7,109.3 460.0,142.0 427.3,109.3" fill="none" stroke="#e2e2e2" stroke-width="0.8"/>
<polygon points="460.0,65.7 503.6,109.3 460.0,152.9 416.4,109.3" fill="none" stroke="#e2e2e2" stroke-width="0.8"/>
<polygon points="460.0,54.8 514.5,109.3 460.0,163.8 405.5,109.3" fill="none" stroke="#e2e2e2" stroke-width="0.8"/>
<polygon points="460.0,43.8 525.5,109.3 460.0,174.8 394.5,109.3" fill="none" stroke="#e2e2e2" stroke-width="0.8"/>
<line x1="394.5" y1="109.3" x2="525.5" y2="109.3" stroke="#9a9a9a" stroke-width="1"/>
<line x1="460.0" y1="43.8" x2="460.0" y2="174.8" stroke="#9a9a9a" stroke-width="1"/>
<text x="457.8" y="112.0" font-size="7.8" text-anchor="end" fill="#222">0.92</text>
<text x="457.8" y="101.1" font-size="7.8" text-anchor="end" fill="#222">0.93</text>
<text x="457.8" y="90.2" font-size="7.8" text-anchor="end" fill="#222">0.94</text>
<text x="457.8" y="79.3" font-size="7.8" text-anchor="end" fill="#222">0.95</text>
<text x="457.8" y="68.4" font-size="7.8" text-anchor="end" fill="#222">0.96</text>
<text x="457.8" y="57.5" font-size="7.8" text-anchor="end" fill="#222">0.97</text>
<text x="457.8" y="46.6" font-size="7.8" text-anchor="end" fill="#222">0.98</text>
<text x="460.0" y="35.5" font-size="8" text-anchor="middle" fill="#000">0°</text>
<text x="532.3" y="112.1" font-size="7.6" text-anchor="start" fill="#000">45°</text>
<text x="388.0" y="112.1" font-size="7.6" text-anchor="end" fill="#000">135°</text>
<text x="460.0" y="188.7" font-size="8" text-anchor="middle" fill="#000">90°</text>
<text x="460.0" y="200.0" font-size="11" font-weight="bold" text-anchor="middle" fill="#000">R<tspan font-size="7" dy="-4">2</tspan></text>
<polygon points="460.0,67.5 486.4,109.3 460.0,121.7 446.9,109.3" fill="none" stroke="#e8383c" stroke-width="1"/>
<circle cx="460.0" cy="67.5" r="1.8" fill="#e8383c"/>
<circle cx="486.4" cy="109.3" r="1.8" fill="#e8383c"/>
<circle cx="460.0" cy="121.7" r="1.8" fill="#e8383c"/>
<circle cx="446.9" cy="109.3" r="1.8" fill="#e8383c"/>
<polygon points="460.0,79.8 498.0,109.3 460.0,146.8 444.7,109.3" fill="none" stroke="#1f5fe0" stroke-width="1"/>
<circle cx="460.0" cy="79.8" r="1.8" fill="#1f5fe0"/>
<circle cx="498.0" cy="109.3" r="1.8" fill="#1f5fe0"/>
<circle cx="460.0" cy="146.8" r="1.8" fill="#1f5fe0"/>
<circle cx="444.7" cy="109.3" r="1.8" fill="#1f5fe0"/>
<polygon points="460.0,78.0 511.6,109.3 460.0,164.9 429.0,109.3" fill="none" stroke="#3aaa6a" stroke-width="1"/>
<polygon points="460.0,75.8 462.0,79.4 458.0,79.4" fill="#3aaa6a"/>
<polygon points="511.6,107.1 513.6,110.7 509.6,110.7" fill="#3aaa6a"/>
<polygon points="460.0,162.7 462.0,166.3 458.0,166.3" fill="#3aaa6a"/>
<polygon points="429.0,107.1 431.0,110.7 427.0,110.7" fill="#3aaa6a"/>
<rect x="487.6" y="37.4" width="36.9" height="29.8" fill="#fff" stroke="#bbb" stroke-width="0.8"/>
<line x1="488.6" y1="42.8" x2="505.6" y2="42.8" stroke="#e8383c" stroke-width="1"/>
<circle cx="497.1" cy="42.8" r="1.8" fill="#e8383c"/>
<text x="507.6" y="45.8" font-size="8.2" text-anchor="start" fill="#000">PO</text>
<line x1="488.6" y1="52.3" x2="505.6" y2="52.3" stroke="#1f5fe0" stroke-width="1"/>
<circle cx="497.1" cy="52.3" r="1.8" fill="#1f5fe0"/>
<text x="507.6" y="55.3" font-size="8.2" text-anchor="start" fill="#000">SO</text>
<line x1="488.6" y1="61.8" x2="505.6" y2="61.8" stroke="#3aaa6a" stroke-width="1"/>
<polygon points="497.1,59.6 499.1,63.2 495.1,63.2" fill="#3aaa6a"/>
<text x="507.6" y="64.8" font-size="8.2" text-anchor="start" fill="#000">TCK</text>
<polygon points="460.0,304.3 463.3,307.6 460.0,310.9 456.7,307.6" fill="none" stroke="#e2e2e2" stroke-width="0.8"/>
<polygon points="460.0,293.7 473.9,307.6 460.0,321.5 446.1,307.6" fill="none" stroke="#e2e2e2" stroke-width="0.8"/>
<polygon points="460.0,283.1 484.5,307.6 460.0,332.1 435.5,307.6" fill="none" stroke="#e2e2e2" stroke-width="0.8"/>
<polygon points="460.0,272.5 495.1,307.6 460.0,342.7 424.9,307.6" fill="none" stroke="#e2e2e2" stroke-width="0.8"/>
<polygon points="460.0,261.9 505.7,307.6 460.0,353.3 414.3,307.6" fill="none" stroke="#e2e2e2" stroke-width="0.8"/>
<polygon points="460.0,251.3 516.3,307.6 460.0,363.9 403.7,307.6" fill="none" stroke="#e2e2e2" stroke-width="0.8"/>
<polygon points="460.0,240.3 527.3,307.6 460.0,374.9 392.7,307.6" fill="none" stroke="#e2e2e2" stroke-width="0.8"/>
<line x1="392.7" y1="307.6" x2="527.3" y2="307.6" stroke="#9a9a9a" stroke-width="1"/>
<line x1="460.0" y1="240.3" x2="460.0" y2="374.9" stroke="#9a9a9a" stroke-width="1"/>
<text x="457.8" y="307.0" font-size="7.8" text-anchor="end" fill="#222">0.963</text>
<text x="457.8" y="296.4" font-size="7.8" text-anchor="end" fill="#222">0.966</text>
<text x="457.8" y="285.8" font-size="7.8" text-anchor="end" fill="#222">0.969</text>
<text x="457.8" y="275.2" font-size="7.8" text-anchor="end" fill="#222">0.972</text>
<text x="457.8" y="264.6" font-size="7.8" text-anchor="end" fill="#222">0.975</text>
<text x="457.8" y="254.0" font-size="7.8" text-anchor="end" fill="#222">0.978</text>
<text x="457.8" y="243.4" font-size="7.8" text-anchor="end" fill="#222">0.981</text>
<text x="460.0" y="233.5" font-size="8" text-anchor="middle" fill="#000">0°</text>
<text x="534.1" y="310.4" font-size="7.6" text-anchor="start" fill="#000">45°</text>
<text x="386.2" y="310.4" font-size="7.6" text-anchor="end" fill="#000">135°</text>
<text x="460.0" y="389.0" font-size="8" text-anchor="middle" fill="#000">90°</text>
<text x="460.0" y="401.0" font-size="11" font-weight="bold" text-anchor="middle" fill="#000">R<tspan font-size="7" dy="-4">2</tspan></text>
<polygon points="460.0,301.4 514.0,307.6 460.0,362.2 449.6,307.6" fill="none" stroke="#e8383c" stroke-width="1"/>
<circle cx="460.0" cy="301.4" r="1.8" fill="#e8383c"/>
<circle cx="514.0" cy="307.6" r="1.8" fill="#e8383c"/>
<circle cx="460.0" cy="362.2" r="1.8" fill="#e8383c"/>
<circle cx="449.6" cy="307.6" r="1.8" fill="#e8383c"/>
<polygon points="460.0,274.5 501.4,307.6 460.0,354.5 414.2,307.6" fill="none" stroke="#1f5fe0" stroke-width="1"/>
<circle cx="460.0" cy="274.5" r="1.8" fill="#1f5fe0"/>
<circle cx="501.4" cy="307.6" r="1.8" fill="#1f5fe0"/>
<circle cx="460.0" cy="354.5" r="1.8" fill="#1f5fe0"/>
<circle cx="414.2" cy="307.6" r="1.8" fill="#1f5fe0"/>
<polygon points="460.0,248.6 508.3,307.6 460.0,370.6 423.2,307.6" fill="none" stroke="#3aaa6a" stroke-width="1"/>
<polygon points="460.0,246.4 462.0,250.0 458.0,250.0" fill="#3aaa6a"/>
<polygon points="508.3,305.4 510.3,309.0 506.3,309.0" fill="#3aaa6a"/>
<polygon points="460.0,368.4 462.0,372.0 458.0,372.0" fill="#3aaa6a"/>
<polygon points="423.2,305.4 425.2,309.0 421.2,309.0" fill="#3aaa6a"/>
<rect x="500.9" y="231.7" width="38.6" height="31.1" fill="#fff" stroke="#bbb" stroke-width="0.8"/>
<line x1="501.9" y1="237.3" x2="518.9" y2="237.3" stroke="#e8383c" stroke-width="1"/>
<circle cx="510.4" cy="237.3" r="1.8" fill="#e8383c"/>
<text x="520.9" y="240.3" font-size="8.2" text-anchor="start" fill="#000">PO</text>
<line x1="501.9" y1="247.2" x2="518.9" y2="247.2" stroke="#1f5fe0" stroke-width="1"/>
<circle cx="510.4" cy="247.2" r="1.8" fill="#1f5fe0"/>
<text x="520.9" y="250.2" font-size="8.2" text-anchor="start" fill="#000">SO</text>
<line x1="501.9" y1="257.2" x2="518.9" y2="257.2" stroke="#3aaa6a" stroke-width="1"/>
<polygon points="510.4,255.0 512.4,258.6 508.4,258.6" fill="#3aaa6a"/>
<text x="520.9" y="260.2" font-size="8.2" text-anchor="start" fill="#000">TCK</text>
<polygon points="460.2,501.2 463.7,504.7 460.2,508.2 456.7,504.7" fill="none" stroke="#e2e2e2" stroke-width="0.8"/>
<polygon points="460.2,491.5 473.4,504.7 460.2,517.9 447.0,504.7" fill="none" stroke="#e2e2e2" stroke-width="0.8"/>
<polygon points="460.2,481.8 483.1,504.7 460.2,527.6 437.3,504.7" fill="none" stroke="#e2e2e2" stroke-width="0.8"/>
<polygon points="460.2,472.1 492.8,504.7 460.2,537.3 427.6,504.7" fill="none" stroke="#e2e2e2" stroke-width="0.8"/>
<polygon points="460.2,462.4 502.5,504.7 460.2,547.0 417.9,504.7" fill="none" stroke="#e2e2e2" stroke-width="0.8"/>
<polygon points="460.2,452.7 512.2,504.7 460.2,556.7 408.2,504.7" fill="none" stroke="#e2e2e2" stroke-width="0.8"/>
<polygon points="460.2,443.0 521.9,504.7 460.2,566.4 398.5,504.7" fill="none" stroke="#e2e2e2" stroke-width="0.8"/>
<polygon points="460.2,435.7 529.2,504.7 460.2,573.7 391.2,504.7" fill="none" stroke="#e2e2e2" stroke-width="0.8"/>
<line x1="391.2" y1="504.7" x2="529.2" y2="504.7" stroke="#9a9a9a" stroke-width="1"/>
<line x1="460.2" y1="435.7" x2="460.2" y2="573.7" stroke="#9a9a9a" stroke-width="1"/>
<text x="458.0" y="503.9" font-size="7.8" text-anchor="end" fill="#222">0.940</text>
<text x="458.0" y="494.2" font-size="7.8" text-anchor="end" fill="#222">0.945</text>
<text x="458.0" y="484.5" font-size="7.8" text-anchor="end" fill="#222">0.950</text>
<text x="458.0" y="474.8" font-size="7.8" text-anchor="end" fill="#222">0.955</text>
<text x="458.0" y="465.1" font-size="7.8" text-anchor="end" fill="#222">0.960</text>
<text x="458.0" y="455.4" font-size="7.8" text-anchor="end" fill="#222">0.965</text>
<text x="458.0" y="445.7" font-size="7.8" text-anchor="end" fill="#222">0.970</text>
<text x="458.0" y="436.0" font-size="7.8" text-anchor="end" fill="#222">0.975</text>
<text x="460.2" y="425.8" font-size="8" text-anchor="middle" fill="#000">0°</text>
<text x="536.0" y="507.5" font-size="7.6" text-anchor="start" fill="#000">45°</text>
<text x="384.7" y="507.5" font-size="7.6" text-anchor="end" fill="#000">135°</text>
<text x="460.2" y="587.3" font-size="8" text-anchor="middle" fill="#000">90°</text>
<text x="460.2" y="598.0" font-size="11" font-weight="bold" text-anchor="middle" fill="#000">R<tspan font-size="7" dy="-4">2</tspan></text>
<polygon points="460.2,450.5 510.8,504.7 460.2,530.0 454.7,504.7" fill="none" stroke="#e8383c" stroke-width="1"/>
<circle cx="460.2" cy="450.5" r="1.8" fill="#e8383c"/>
<circle cx="510.8" cy="504.7" r="1.8" fill="#e8383c"/>
<circle cx="460.2" cy="530.0" r="1.8" fill="#e8383c"/>
<circle cx="454.7" cy="504.7" r="1.8" fill="#e8383c"/>
<polygon points="460.2,459.9 492.9,504.7 460.2,524.4 448.2,504.7" fill="none" stroke="#1f5fe0" stroke-width="1"/>
<circle cx="460.2" cy="459.9" r="1.8" fill="#1f5fe0"/>
<circle cx="492.9" cy="504.7" r="1.8" fill="#1f5fe0"/>
<circle cx="460.2" cy="524.4" r="1.8" fill="#1f5fe0"/>
<circle cx="448.2" cy="504.7" r="1.8" fill="#1f5fe0"/>
<polygon points="460.2,481.5 495.1,504.7 460.2,564.4 430.1,504.7" fill="none" stroke="#3aaa6a" stroke-width="1"/>
<polygon points="460.2,479.3 462.2,482.9 458.2,482.9" fill="#3aaa6a"/>
<polygon points="495.1,502.5 497.1,506.1 493.1,506.1" fill="#3aaa6a"/>
<polygon points="460.2,562.2 462.2,565.8 458.2,565.8" fill="#3aaa6a"/>
<polygon points="430.1,502.5 432.1,506.1 428.1,506.1" fill="#3aaa6a"/>
<rect x="502.5" y="426.3" width="39.3" height="31.1" fill="#fff" stroke="#bbb" stroke-width="0.8"/>
<line x1="503.5" y1="431.9" x2="520.5" y2="431.9" stroke="#e8383c" stroke-width="1"/>
<circle cx="512.0" cy="431.9" r="1.8" fill="#e8383c"/>
<text x="522.5" y="434.9" font-size="8.2" text-anchor="start" fill="#000">PO</text>
<line x1="503.5" y1="441.9" x2="520.5" y2="441.9" stroke="#1f5fe0" stroke-width="1"/>
<circle cx="512.0" cy="441.9" r="1.8" fill="#1f5fe0"/>
<text x="522.5" y="444.9" font-size="8.2" text-anchor="start" fill="#000">SO</text>
<line x1="503.5" y1="451.8" x2="520.5" y2="451.8" stroke="#3aaa6a" stroke-width="1"/>
<polygon points="512.0,449.6 514.0,453.2 510.0,453.2" fill="#3aaa6a"/>
<text x="522.5" y="454.8" font-size="8.2" text-anchor="start" fill="#000">TCK</text>
<polygon points="460.1,703.2 463.0,706.1 460.1,709.0 457.2,706.1" fill="none" stroke="#e2e2e2" stroke-width="0.8"/>
<polygon points="460.1,693.5 472.7,706.1 460.1,718.7 447.5,706.1" fill="none" stroke="#e2e2e2" stroke-width="0.8"/>
<polygon points="460.1,683.8 482.4,706.1 460.1,728.4 437.8,706.1" fill="none" stroke="#e2e2e2" stroke-width="0.8"/>
<polygon points="460.1,674.1 492.1,706.1 460.1,738.1 428.1,706.1" fill="none" stroke="#e2e2e2" stroke-width="0.8"/>
<polygon points="460.1,664.4 501.8,706.1 460.1,747.8 418.4,706.1" fill="none" stroke="#e2e2e2" stroke-width="0.8"/>
<polygon points="460.1,654.7 511.5,706.1 460.1,757.5 408.7,706.1" fill="none" stroke="#e2e2e2" stroke-width="0.8"/>
<polygon points="460.1,645.0 521.2,706.1 460.1,767.2 399.0,706.1" fill="none" stroke="#e2e2e2" stroke-width="0.8"/>
<polygon points="460.1,637.8 528.4,706.1 460.1,774.4 391.8,706.1" fill="none" stroke="#e2e2e2" stroke-width="0.8"/>
<line x1="391.8" y1="706.1" x2="528.4" y2="706.1" stroke="#9a9a9a" stroke-width="1"/>
<line x1="460.1" y1="637.8" x2="460.1" y2="774.4" stroke="#9a9a9a" stroke-width="1"/>
<text x="457.9" y="705.9" font-size="7.8" text-anchor="end" fill="#222">0.945</text>
<text x="457.9" y="696.2" font-size="7.8" text-anchor="end" fill="#222">0.950</text>
<text x="457.9" y="686.5" font-size="7.8" text-anchor="end" fill="#222">0.955</text>
<text x="457.9" y="676.8" font-size="7.8" text-anchor="end" fill="#222">0.960</text>
<text x="457.9" y="667.1" font-size="7.8" text-anchor="end" fill="#222">0.965</text>
<text x="457.9" y="657.4" font-size="7.8" text-anchor="end" fill="#222">0.970</text>
<text x="457.9" y="647.7" font-size="7.8" text-anchor="end" fill="#222">0.975</text>
<text x="457.9" y="638.0" font-size="7.8" text-anchor="end" fill="#222">0.980</text>
<text x="460.1" y="629.0" font-size="8" text-anchor="middle" fill="#000">0°</text>
<text x="535.2" y="708.9" font-size="7.6" text-anchor="start" fill="#000">45°</text>
<text x="385.3" y="708.9" font-size="7.6" text-anchor="end" fill="#000">135°</text>
<text x="460.1" y="788.5" font-size="8" text-anchor="middle" fill="#000">90°</text>
<text x="460.1" y="799.7" font-size="11" font-weight="bold" text-anchor="middle" fill="#000">R<tspan font-size="7" dy="-4">2</tspan></text>
<polygon points="460.1,682.7 500.9,706.1 460.1,763.5 423.0,706.1" fill="none" stroke="#e8383c" stroke-width="1"/>
<circle cx="460.1" cy="682.7" r="1.8" fill="#e8383c"/>
<circle cx="500.9" cy="706.1" r="1.8" fill="#e8383c"/>
<circle cx="460.1" cy="763.5" r="1.8" fill="#e8383c"/>
<circle cx="423.0" cy="706.1" r="1.8" fill="#e8383c"/>
<polygon points="460.1,667.5 478.0,706.1 460.1,734.1 449.2,706.1" fill="none" stroke="#1f5fe0" stroke-width="1"/>
<circle cx="460.1" cy="667.5" r="1.8" fill="#1f5fe0"/>
<circle cx="478.0" cy="706.1" r="1.8" fill="#1f5fe0"/>
<circle cx="460.1" cy="734.1" r="1.8" fill="#1f5fe0"/>
<circle cx="449.2" cy="706.1" r="1.8" fill="#1f5fe0"/>
<polygon points="460.1,677.3 464.0,706.1 460.1,770.1 399.6,706.1" fill="none" stroke="#3aaa6a" stroke-width="1"/>
<polygon points="460.1,675.1 462.1,678.7 458.1,678.7" fill="#3aaa6a"/>
<polygon points="464.0,703.9 466.0,707.5 462.0,707.5" fill="#3aaa6a"/>
<polygon points="460.1,767.9 462.1,771.5 458.1,771.5" fill="#3aaa6a"/>
<polygon points="399.6,703.9 401.6,707.5 397.6,707.5" fill="#3aaa6a"/>
<rect x="500.2" y="628.8" width="39.0" height="31.1" fill="#fff" stroke="#bbb" stroke-width="0.8"/>
<line x1="501.2" y1="634.4" x2="518.2" y2="634.4" stroke="#e8383c" stroke-width="1"/>
<circle cx="509.7" cy="634.4" r="1.8" fill="#e8383c"/>
<text x="520.2" y="637.4" font-size="8.2" text-anchor="start" fill="#000">PO</text>
<line x1="501.2" y1="644.3" x2="518.2" y2="644.3" stroke="#1f5fe0" stroke-width="1"/>
<circle cx="509.7" cy="644.3" r="1.8" fill="#1f5fe0"/>
<text x="520.2" y="647.3" font-size="8.2" text-anchor="start" fill="#000">SO</text>
<line x1="501.2" y1="654.3" x2="518.2" y2="654.3" stroke="#3aaa6a" stroke-width="1"/>
<polygon points="509.7,652.1 511.7,655.7 507.7,655.7" fill="#3aaa6a"/>
<text x="520.2" y="657.3" font-size="8.2" text-anchor="start" fill="#000">TCK</text>
</svg>
</body></html>
